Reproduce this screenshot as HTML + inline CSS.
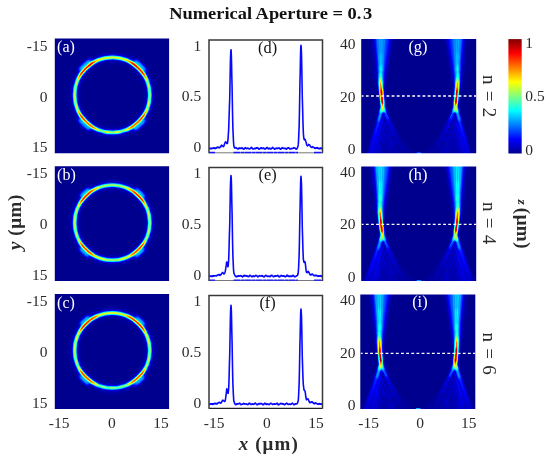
<!DOCTYPE html>
<html><head><meta charset="utf-8"><title>Numerical Aperture = 0.3</title>
<style>html,body{margin:0;padding:0;background:#fff;}svg{display:block;}text{font-family:"Liberation Serif", "DejaVu Serif", serif;}</style>
</head><body>
<svg width="550" height="464" viewBox="0 0 550 464">
<defs>
<filter id="jet" x="0" y="0" width="100%" height="100%" color-interpolation-filters="sRGB"><feComponentTransfer><feFuncR type="table" tableValues="0 0 0 0 0.5 1 1 1 0.5"/><feFuncG type="table" tableValues="0 0 0.5 1 1 1 0.5 0 0"/><feFuncB type="table" tableValues="0.56 1 1 1 0.5 0 0 0 0"/></feComponentTransfer></filter>
<filter id="b05" filterUnits="userSpaceOnUse" x="-20" y="-20" width="160" height="160" color-interpolation-filters="sRGB"><feGaussianBlur stdDeviation="0.5"/></filter>
<filter id="b07" filterUnits="userSpaceOnUse" x="-20" y="-20" width="160" height="160" color-interpolation-filters="sRGB"><feGaussianBlur stdDeviation="0.7"/></filter>
<filter id="b08" filterUnits="userSpaceOnUse" x="-20" y="-20" width="160" height="160" color-interpolation-filters="sRGB"><feGaussianBlur stdDeviation="0.8"/></filter>
<filter id="b09" filterUnits="userSpaceOnUse" x="-20" y="-20" width="160" height="160" color-interpolation-filters="sRGB"><feGaussianBlur stdDeviation="0.9"/></filter>
<filter id="b1" filterUnits="userSpaceOnUse" x="-20" y="-20" width="160" height="160" color-interpolation-filters="sRGB"><feGaussianBlur stdDeviation="1.0"/></filter>
<filter id="b15" filterUnits="userSpaceOnUse" x="-20" y="-20" width="160" height="160" color-interpolation-filters="sRGB"><feGaussianBlur stdDeviation="1.5"/></filter>
<filter id="b2" filterUnits="userSpaceOnUse" x="-20" y="-20" width="160" height="160" color-interpolation-filters="sRGB"><feGaussianBlur stdDeviation="2.0"/></filter>
<filter id="b3" filterUnits="userSpaceOnUse" x="-20" y="-20" width="160" height="160" color-interpolation-filters="sRGB"><feGaussianBlur stdDeviation="3.0"/></filter>
<filter id="b4" filterUnits="userSpaceOnUse" x="-20" y="-20" width="160" height="160" color-interpolation-filters="sRGB"><feGaussianBlur stdDeviation="4.0"/></filter>
<linearGradient id="cb" x1="0" y1="1" x2="0" y2="0">
<stop offset="0" stop-color="rgb(0,0,143)"/>
<stop offset="0.125" stop-color="rgb(0,0,255)"/>
<stop offset="0.375" stop-color="rgb(0,255,255)"/>
<stop offset="0.625" stop-color="rgb(255,255,0)"/>
<stop offset="0.875" stop-color="rgb(255,0,0)"/>
<stop offset="1" stop-color="rgb(128,0,0)"/>
</linearGradient>
</defs>
<defs><linearGradient id="g0" gradientUnits="userSpaceOnUse" x1="0" y1="67.1" x2="0" y2="114.4"><stop offset="0" stop-color="#050505"/><stop offset="1" stop-color="#030303"/></linearGradient><linearGradient id="g1" gradientUnits="userSpaceOnUse" x1="0" y1="67.1" x2="0" y2="114.4"><stop offset="0" stop-color="#090909"/><stop offset="1" stop-color="#040404"/></linearGradient><linearGradient id="g2" gradientUnits="userSpaceOnUse" x1="0" y1="67.1" x2="0" y2="114.4"><stop offset="0" stop-color="#121212"/><stop offset="1" stop-color="#090909"/></linearGradient><linearGradient id="g3" gradientUnits="userSpaceOnUse" x1="0" y1="67.1" x2="0" y2="114.4"><stop offset="0" stop-color="#333333"/><stop offset="1" stop-color="#0f0f0f"/></linearGradient><linearGradient id="g4" gradientUnits="userSpaceOnUse" x1="0" y1="67.1" x2="0" y2="114.4"><stop offset="0" stop-color="#333333"/><stop offset="1" stop-color="#080808"/></linearGradient><linearGradient id="g5" gradientUnits="userSpaceOnUse" x1="0" y1="67.1" x2="0" y2="114.4"><stop offset="0" stop-color="#141414"/><stop offset="1" stop-color="#0a0a0a"/></linearGradient><linearGradient id="g6" gradientUnits="userSpaceOnUse" x1="0" y1="67.1" x2="0" y2="114.4"><stop offset="0" stop-color="#121212"/><stop offset="1" stop-color="#090909"/></linearGradient><linearGradient id="g7" gradientUnits="userSpaceOnUse" x1="0" y1="67.1" x2="0" y2="114.4"><stop offset="0" stop-color="#0f0f0f"/><stop offset="1" stop-color="#080808"/></linearGradient><linearGradient id="g8" gradientUnits="userSpaceOnUse" x1="0" y1="67.1" x2="0" y2="114.4"><stop offset="0" stop-color="#0d0d0d"/><stop offset="1" stop-color="#060606"/></linearGradient><linearGradient id="g9" gradientUnits="userSpaceOnUse" x1="0" y1="67.1" x2="0" y2="114.4"><stop offset="0" stop-color="#0a0a0a"/><stop offset="1" stop-color="#060606"/></linearGradient><linearGradient id="g10" gradientUnits="userSpaceOnUse" x1="0" y1="67.1" x2="0" y2="114.4"><stop offset="0" stop-color="#080808"/><stop offset="1" stop-color="#050505"/></linearGradient><linearGradient id="g11" gradientUnits="userSpaceOnUse" x1="0" y1="67.1" x2="0" y2="114.4"><stop offset="0" stop-color="#050505"/><stop offset="1" stop-color="#030303"/></linearGradient><linearGradient id="g12" gradientUnits="userSpaceOnUse" x1="0" y1="67.1" x2="0" y2="114.4"><stop offset="0" stop-color="#090909"/><stop offset="1" stop-color="#040404"/></linearGradient><linearGradient id="g13" gradientUnits="userSpaceOnUse" x1="0" y1="67.1" x2="0" y2="114.4"><stop offset="0" stop-color="#121212"/><stop offset="1" stop-color="#090909"/></linearGradient><linearGradient id="g14" gradientUnits="userSpaceOnUse" x1="0" y1="67.1" x2="0" y2="114.4"><stop offset="0" stop-color="#333333"/><stop offset="1" stop-color="#0f0f0f"/></linearGradient><linearGradient id="g15" gradientUnits="userSpaceOnUse" x1="0" y1="67.1" x2="0" y2="114.4"><stop offset="0" stop-color="#333333"/><stop offset="1" stop-color="#080808"/></linearGradient><linearGradient id="g16" gradientUnits="userSpaceOnUse" x1="0" y1="67.1" x2="0" y2="114.4"><stop offset="0" stop-color="#141414"/><stop offset="1" stop-color="#0a0a0a"/></linearGradient><linearGradient id="g17" gradientUnits="userSpaceOnUse" x1="0" y1="67.1" x2="0" y2="114.4"><stop offset="0" stop-color="#121212"/><stop offset="1" stop-color="#090909"/></linearGradient><linearGradient id="g18" gradientUnits="userSpaceOnUse" x1="0" y1="67.1" x2="0" y2="114.4"><stop offset="0" stop-color="#0f0f0f"/><stop offset="1" stop-color="#080808"/></linearGradient><linearGradient id="g19" gradientUnits="userSpaceOnUse" x1="0" y1="67.1" x2="0" y2="114.4"><stop offset="0" stop-color="#0d0d0d"/><stop offset="1" stop-color="#060606"/></linearGradient><linearGradient id="g20" gradientUnits="userSpaceOnUse" x1="0" y1="67.1" x2="0" y2="114.4"><stop offset="0" stop-color="#0a0a0a"/><stop offset="1" stop-color="#060606"/></linearGradient><linearGradient id="g21" gradientUnits="userSpaceOnUse" x1="0" y1="67.1" x2="0" y2="114.4"><stop offset="0" stop-color="#080808"/><stop offset="1" stop-color="#050505"/></linearGradient><linearGradient id="g22" gradientUnits="userSpaceOnUse" x1="0" y1="67.8" x2="0" y2="114.4"><stop offset="0" stop-color="#050505"/><stop offset="1" stop-color="#030303"/></linearGradient><linearGradient id="g23" gradientUnits="userSpaceOnUse" x1="0" y1="67.8" x2="0" y2="114.4"><stop offset="0" stop-color="#090909"/><stop offset="1" stop-color="#040404"/></linearGradient><linearGradient id="g24" gradientUnits="userSpaceOnUse" x1="0" y1="67.8" x2="0" y2="114.4"><stop offset="0" stop-color="#121212"/><stop offset="1" stop-color="#090909"/></linearGradient><linearGradient id="g25" gradientUnits="userSpaceOnUse" x1="0" y1="67.8" x2="0" y2="114.4"><stop offset="0" stop-color="#333333"/><stop offset="1" stop-color="#0f0f0f"/></linearGradient><linearGradient id="g26" gradientUnits="userSpaceOnUse" x1="0" y1="67.8" x2="0" y2="114.4"><stop offset="0" stop-color="#333333"/><stop offset="1" stop-color="#080808"/></linearGradient><linearGradient id="g27" gradientUnits="userSpaceOnUse" x1="0" y1="67.8" x2="0" y2="114.4"><stop offset="0" stop-color="#141414"/><stop offset="1" stop-color="#0a0a0a"/></linearGradient><linearGradient id="g28" gradientUnits="userSpaceOnUse" x1="0" y1="67.8" x2="0" y2="114.4"><stop offset="0" stop-color="#121212"/><stop offset="1" stop-color="#090909"/></linearGradient><linearGradient id="g29" gradientUnits="userSpaceOnUse" x1="0" y1="67.8" x2="0" y2="114.4"><stop offset="0" stop-color="#0f0f0f"/><stop offset="1" stop-color="#080808"/></linearGradient><linearGradient id="g30" gradientUnits="userSpaceOnUse" x1="0" y1="67.8" x2="0" y2="114.4"><stop offset="0" stop-color="#0d0d0d"/><stop offset="1" stop-color="#060606"/></linearGradient><linearGradient id="g31" gradientUnits="userSpaceOnUse" x1="0" y1="67.8" x2="0" y2="114.4"><stop offset="0" stop-color="#0a0a0a"/><stop offset="1" stop-color="#060606"/></linearGradient><linearGradient id="g32" gradientUnits="userSpaceOnUse" x1="0" y1="67.8" x2="0" y2="114.4"><stop offset="0" stop-color="#080808"/><stop offset="1" stop-color="#050505"/></linearGradient><linearGradient id="g33" gradientUnits="userSpaceOnUse" x1="0" y1="67.8" x2="0" y2="114.4"><stop offset="0" stop-color="#050505"/><stop offset="1" stop-color="#030303"/></linearGradient><linearGradient id="g34" gradientUnits="userSpaceOnUse" x1="0" y1="67.8" x2="0" y2="114.4"><stop offset="0" stop-color="#090909"/><stop offset="1" stop-color="#040404"/></linearGradient><linearGradient id="g35" gradientUnits="userSpaceOnUse" x1="0" y1="67.8" x2="0" y2="114.4"><stop offset="0" stop-color="#121212"/><stop offset="1" stop-color="#090909"/></linearGradient><linearGradient id="g36" gradientUnits="userSpaceOnUse" x1="0" y1="67.8" x2="0" y2="114.4"><stop offset="0" stop-color="#333333"/><stop offset="1" stop-color="#0f0f0f"/></linearGradient><linearGradient id="g37" gradientUnits="userSpaceOnUse" x1="0" y1="67.8" x2="0" y2="114.4"><stop offset="0" stop-color="#333333"/><stop offset="1" stop-color="#080808"/></linearGradient><linearGradient id="g38" gradientUnits="userSpaceOnUse" x1="0" y1="67.8" x2="0" y2="114.4"><stop offset="0" stop-color="#141414"/><stop offset="1" stop-color="#0a0a0a"/></linearGradient><linearGradient id="g39" gradientUnits="userSpaceOnUse" x1="0" y1="67.8" x2="0" y2="114.4"><stop offset="0" stop-color="#121212"/><stop offset="1" stop-color="#090909"/></linearGradient><linearGradient id="g40" gradientUnits="userSpaceOnUse" x1="0" y1="67.8" x2="0" y2="114.4"><stop offset="0" stop-color="#0f0f0f"/><stop offset="1" stop-color="#080808"/></linearGradient><linearGradient id="g41" gradientUnits="userSpaceOnUse" x1="0" y1="67.8" x2="0" y2="114.4"><stop offset="0" stop-color="#0d0d0d"/><stop offset="1" stop-color="#060606"/></linearGradient><linearGradient id="g42" gradientUnits="userSpaceOnUse" x1="0" y1="67.8" x2="0" y2="114.4"><stop offset="0" stop-color="#0a0a0a"/><stop offset="1" stop-color="#060606"/></linearGradient><linearGradient id="g43" gradientUnits="userSpaceOnUse" x1="0" y1="67.8" x2="0" y2="114.4"><stop offset="0" stop-color="#080808"/><stop offset="1" stop-color="#050505"/></linearGradient><linearGradient id="g44" gradientUnits="userSpaceOnUse" x1="0" y1="69.0" x2="0" y2="114.5"><stop offset="0" stop-color="#050505"/><stop offset="1" stop-color="#030303"/></linearGradient><linearGradient id="g45" gradientUnits="userSpaceOnUse" x1="0" y1="69.0" x2="0" y2="114.5"><stop offset="0" stop-color="#090909"/><stop offset="1" stop-color="#040404"/></linearGradient><linearGradient id="g46" gradientUnits="userSpaceOnUse" x1="0" y1="69.0" x2="0" y2="114.5"><stop offset="0" stop-color="#121212"/><stop offset="1" stop-color="#090909"/></linearGradient><linearGradient id="g47" gradientUnits="userSpaceOnUse" x1="0" y1="69.0" x2="0" y2="114.5"><stop offset="0" stop-color="#333333"/><stop offset="1" stop-color="#0f0f0f"/></linearGradient><linearGradient id="g48" gradientUnits="userSpaceOnUse" x1="0" y1="69.0" x2="0" y2="114.5"><stop offset="0" stop-color="#333333"/><stop offset="1" stop-color="#080808"/></linearGradient><linearGradient id="g49" gradientUnits="userSpaceOnUse" x1="0" y1="69.0" x2="0" y2="114.5"><stop offset="0" stop-color="#141414"/><stop offset="1" stop-color="#0a0a0a"/></linearGradient><linearGradient id="g50" gradientUnits="userSpaceOnUse" x1="0" y1="69.0" x2="0" y2="114.5"><stop offset="0" stop-color="#121212"/><stop offset="1" stop-color="#090909"/></linearGradient><linearGradient id="g51" gradientUnits="userSpaceOnUse" x1="0" y1="69.0" x2="0" y2="114.5"><stop offset="0" stop-color="#0f0f0f"/><stop offset="1" stop-color="#080808"/></linearGradient><linearGradient id="g52" gradientUnits="userSpaceOnUse" x1="0" y1="69.0" x2="0" y2="114.5"><stop offset="0" stop-color="#0d0d0d"/><stop offset="1" stop-color="#060606"/></linearGradient><linearGradient id="g53" gradientUnits="userSpaceOnUse" x1="0" y1="69.0" x2="0" y2="114.5"><stop offset="0" stop-color="#0a0a0a"/><stop offset="1" stop-color="#060606"/></linearGradient><linearGradient id="g54" gradientUnits="userSpaceOnUse" x1="0" y1="69.0" x2="0" y2="114.5"><stop offset="0" stop-color="#080808"/><stop offset="1" stop-color="#050505"/></linearGradient><linearGradient id="g55" gradientUnits="userSpaceOnUse" x1="0" y1="69.0" x2="0" y2="114.5"><stop offset="0" stop-color="#050505"/><stop offset="1" stop-color="#030303"/></linearGradient><linearGradient id="g56" gradientUnits="userSpaceOnUse" x1="0" y1="69.0" x2="0" y2="114.5"><stop offset="0" stop-color="#090909"/><stop offset="1" stop-color="#040404"/></linearGradient><linearGradient id="g57" gradientUnits="userSpaceOnUse" x1="0" y1="69.0" x2="0" y2="114.5"><stop offset="0" stop-color="#121212"/><stop offset="1" stop-color="#090909"/></linearGradient><linearGradient id="g58" gradientUnits="userSpaceOnUse" x1="0" y1="69.0" x2="0" y2="114.5"><stop offset="0" stop-color="#333333"/><stop offset="1" stop-color="#0f0f0f"/></linearGradient><linearGradient id="g59" gradientUnits="userSpaceOnUse" x1="0" y1="69.0" x2="0" y2="114.5"><stop offset="0" stop-color="#333333"/><stop offset="1" stop-color="#080808"/></linearGradient><linearGradient id="g60" gradientUnits="userSpaceOnUse" x1="0" y1="69.0" x2="0" y2="114.5"><stop offset="0" stop-color="#141414"/><stop offset="1" stop-color="#0a0a0a"/></linearGradient><linearGradient id="g61" gradientUnits="userSpaceOnUse" x1="0" y1="69.0" x2="0" y2="114.5"><stop offset="0" stop-color="#121212"/><stop offset="1" stop-color="#090909"/></linearGradient><linearGradient id="g62" gradientUnits="userSpaceOnUse" x1="0" y1="69.0" x2="0" y2="114.5"><stop offset="0" stop-color="#0f0f0f"/><stop offset="1" stop-color="#080808"/></linearGradient><linearGradient id="g63" gradientUnits="userSpaceOnUse" x1="0" y1="69.0" x2="0" y2="114.5"><stop offset="0" stop-color="#0d0d0d"/><stop offset="1" stop-color="#060606"/></linearGradient><linearGradient id="g64" gradientUnits="userSpaceOnUse" x1="0" y1="69.0" x2="0" y2="114.5"><stop offset="0" stop-color="#0a0a0a"/><stop offset="1" stop-color="#060606"/></linearGradient><linearGradient id="g65" gradientUnits="userSpaceOnUse" x1="0" y1="69.0" x2="0" y2="114.5"><stop offset="0" stop-color="#080808"/><stop offset="1" stop-color="#050505"/></linearGradient></defs>
<rect width="550" height="464" fill="#fff"/>
<text x="169.2" y="18.6" font-size="17" font-weight="bold" fill="#111" textLength="203" lengthAdjust="spacingAndGlyphs">Numerical Aperture = 0.<tspan dx="1.5">3</tspan></text>
<svg x="54.80" y="38.50" width="114.30" height="114.80" viewBox="0 0 114.30 114.80">
<g filter="url(#jet)">
<rect x="-2" y="-2" width="118.30" height="118.80" fill="#000"/>
<circle cx="57.45" cy="56.45" r="37.90" fill="none" stroke="#141414" stroke-width="7" filter="url(#b2)" style="mix-blend-mode:plus-lighter"/>
<circle cx="57.45" cy="56.45" r="37.60" fill="none" stroke="#fff" stroke-width="1.6" filter="url(#b08)" style="mix-blend-mode:plus-lighter"/>
<path d="M71.14 20.79 L73.23 22.10 L75.24 23.46 L77.18 24.88 L79.05 26.35 L80.86 27.88 L82.62 29.46 L84.32 31.10 L85.97 32.80 L87.57 34.57 L89.12 36.41 L90.62 38.32 L92.07 40.31" fill="none" stroke="#484848" stroke-width="1.4" stroke-linecap="round" filter="url(#b09)" style="mix-blend-mode:plus-lighter"/>
<path d="M75.38 22.72 L76.70 23.77 L77.98 24.83 L79.24 25.90 L80.48 26.98 L81.69 28.07 L82.89 29.17 L84.07 30.29 L85.24 31.42 L86.41 32.58 L87.56 33.76 L88.70 34.97 L89.85 36.21" fill="none" stroke="#484848" stroke-width="1.4" stroke-linecap="round" filter="url(#b09)" style="mix-blend-mode:plus-lighter"/>
<path d="M80.49 22.29 L81.42 22.94 L82.34 23.62 L83.24 24.32 L84.12 25.04 L84.97 25.79 L85.81 26.56 L86.63 27.36 L87.42 28.18 L88.19 29.02 L88.93 29.88 L89.66 30.76 L90.35 31.66" fill="none" stroke="#888" stroke-width="1.8" stroke-linecap="round" filter="url(#b15)" style="mix-blend-mode:plus-lighter"/>
<path d="M92.07 72.59 L90.62 74.58 L89.12 76.49 L87.57 78.33 L85.97 80.10 L84.32 81.80 L82.62 83.44 L80.86 85.02 L79.05 86.55 L77.18 88.02 L75.24 89.44 L73.23 90.80 L71.14 92.11" fill="none" stroke="#484848" stroke-width="1.4" stroke-linecap="round" filter="url(#b09)" style="mix-blend-mode:plus-lighter"/>
<path d="M89.85 76.69 L88.70 77.93 L87.56 79.14 L86.41 80.32 L85.24 81.48 L84.07 82.61 L82.89 83.73 L81.69 84.83 L80.48 85.92 L79.24 87.00 L77.98 88.07 L76.70 89.13 L75.38 90.18" fill="none" stroke="#484848" stroke-width="1.4" stroke-linecap="round" filter="url(#b09)" style="mix-blend-mode:plus-lighter"/>
<path d="M89.92 81.82 L89.20 82.70 L88.47 83.57 L87.70 84.42 L86.92 85.24 L86.11 86.05 L85.28 86.83 L84.43 87.58 L83.56 88.32 L82.67 89.03 L81.76 89.71 L80.84 90.37 L79.89 91.00" fill="none" stroke="#888" stroke-width="1.8" stroke-linecap="round" filter="url(#b15)" style="mix-blend-mode:plus-lighter"/>
<path d="M43.76 92.11 L41.67 90.80 L39.66 89.44 L37.72 88.02 L35.85 86.55 L34.04 85.02 L32.28 83.44 L30.58 81.80 L28.93 80.10 L27.33 78.33 L25.78 76.49 L24.28 74.58 L22.83 72.59" fill="none" stroke="#484848" stroke-width="1.4" stroke-linecap="round" filter="url(#b09)" style="mix-blend-mode:plus-lighter"/>
<path d="M39.52 90.18 L38.20 89.13 L36.92 88.07 L35.66 87.00 L34.42 85.92 L33.21 84.83 L32.01 83.73 L30.83 82.61 L29.66 81.48 L28.49 80.32 L27.34 79.14 L26.20 77.93 L25.05 76.69" fill="none" stroke="#484848" stroke-width="1.4" stroke-linecap="round" filter="url(#b09)" style="mix-blend-mode:plus-lighter"/>
<path d="M34.41 90.61 L33.48 89.96 L32.56 89.28 L31.66 88.58 L30.78 87.86 L29.93 87.11 L29.09 86.34 L28.27 85.54 L27.48 84.72 L26.71 83.88 L25.97 83.02 L25.24 82.14 L24.55 81.24" fill="none" stroke="#888" stroke-width="1.8" stroke-linecap="round" filter="url(#b15)" style="mix-blend-mode:plus-lighter"/>
<path d="M22.83 40.31 L24.28 38.32 L25.78 36.41 L27.33 34.57 L28.93 32.80 L30.58 31.10 L32.28 29.46 L34.04 27.88 L35.85 26.35 L37.72 24.88 L39.66 23.46 L41.67 22.10 L43.76 20.79" fill="none" stroke="#484848" stroke-width="1.4" stroke-linecap="round" filter="url(#b09)" style="mix-blend-mode:plus-lighter"/>
<path d="M25.05 36.21 L26.20 34.97 L27.34 33.76 L28.49 32.58 L29.66 31.42 L30.83 30.29 L32.01 29.17 L33.21 28.07 L34.42 26.98 L35.66 25.90 L36.92 24.83 L38.20 23.77 L39.52 22.72" fill="none" stroke="#484848" stroke-width="1.4" stroke-linecap="round" filter="url(#b09)" style="mix-blend-mode:plus-lighter"/>
<path d="M24.98 31.08 L25.70 30.20 L26.43 29.33 L27.20 28.48 L27.98 27.66 L28.79 26.85 L29.62 26.07 L30.47 25.32 L31.34 24.58 L32.23 23.87 L33.14 23.19 L34.06 22.53 L35.01 21.90" fill="none" stroke="#888" stroke-width="1.8" stroke-linecap="round" filter="url(#b15)" style="mix-blend-mode:plus-lighter"/>
</g>
</svg>
<text x="57.10" y="52.40" font-size="16" text-anchor="start" fill="#fff" font-weight="normal" font-style="normal" >(a)</text>
<svg x="54.80" y="166.20" width="114.30" height="114.80" viewBox="0 0 114.30 114.80">
<g filter="url(#jet)">
<rect x="-2" y="-2" width="118.30" height="118.80" fill="#000"/>
<circle cx="57.45" cy="56.45" r="37.90" fill="none" stroke="#141414" stroke-width="7" filter="url(#b2)" style="mix-blend-mode:plus-lighter"/>
<circle cx="57.45" cy="56.45" r="37.60" fill="none" stroke="#fff" stroke-width="1.6" filter="url(#b08)" style="mix-blend-mode:plus-lighter"/>
<path d="M73.59 21.83 L75.20 23.07 L76.75 24.33 L78.27 25.59 L79.74 26.86 L81.19 28.16 L82.62 29.46 L84.02 30.79 L85.41 32.15 L86.78 33.53 L88.15 34.95 L89.51 36.42 L90.86 37.93" fill="none" stroke="#484848" stroke-width="1.4" stroke-linecap="round" filter="url(#b09)" style="mix-blend-mode:plus-lighter"/>
<path d="M77.12 23.71 L78.11 24.64 L79.07 25.57 L80.03 26.48 L80.99 27.38 L81.94 28.28 L82.89 29.17 L83.84 30.06 L84.80 30.94 L85.77 31.83 L86.75 32.72 L87.74 33.63 L88.74 34.54" fill="none" stroke="#484848" stroke-width="1.4" stroke-linecap="round" filter="url(#b09)" style="mix-blend-mode:plus-lighter"/>
<path d="M81.67 23.12 L82.39 23.65 L83.10 24.21 L83.79 24.77 L84.48 25.36 L85.15 25.95 L85.81 26.56 L86.46 27.19 L87.09 27.83 L87.70 28.48 L88.31 29.15 L88.90 29.83 L89.47 30.52" fill="none" stroke="#888" stroke-width="1.8" stroke-linecap="round" filter="url(#b15)" style="mix-blend-mode:plus-lighter"/>
<path d="M90.86 74.97 L89.51 76.48 L88.15 77.95 L86.78 79.37 L85.41 80.75 L84.02 82.11 L82.62 83.44 L81.19 84.74 L79.74 86.04 L78.27 87.31 L76.75 88.57 L75.20 89.83 L73.59 91.07" fill="none" stroke="#484848" stroke-width="1.4" stroke-linecap="round" filter="url(#b09)" style="mix-blend-mode:plus-lighter"/>
<path d="M88.74 78.36 L87.74 79.27 L86.75 80.18 L85.77 81.07 L84.80 81.96 L83.84 82.84 L82.89 83.73 L81.94 84.62 L80.99 85.52 L80.03 86.42 L79.07 87.33 L78.11 88.26 L77.12 89.19" fill="none" stroke="#484848" stroke-width="1.4" stroke-linecap="round" filter="url(#b09)" style="mix-blend-mode:plus-lighter"/>
<path d="M89.01 82.93 L88.43 83.62 L87.83 84.28 L87.21 84.94 L86.58 85.58 L85.94 86.21 L85.28 86.83 L84.62 87.43 L83.93 88.01 L83.24 88.58 L82.53 89.14 L81.81 89.68 L81.08 90.20" fill="none" stroke="#888" stroke-width="1.8" stroke-linecap="round" filter="url(#b15)" style="mix-blend-mode:plus-lighter"/>
<path d="M41.31 91.07 L39.70 89.83 L38.15 88.57 L36.63 87.31 L35.16 86.04 L33.71 84.74 L32.28 83.44 L30.88 82.11 L29.49 80.75 L28.12 79.37 L26.75 77.95 L25.39 76.48 L24.04 74.97" fill="none" stroke="#484848" stroke-width="1.4" stroke-linecap="round" filter="url(#b09)" style="mix-blend-mode:plus-lighter"/>
<path d="M37.78 89.19 L36.79 88.26 L35.83 87.33 L34.87 86.42 L33.91 85.52 L32.96 84.62 L32.01 83.73 L31.06 82.84 L30.10 81.96 L29.13 81.07 L28.15 80.18 L27.16 79.27 L26.16 78.36" fill="none" stroke="#484848" stroke-width="1.4" stroke-linecap="round" filter="url(#b09)" style="mix-blend-mode:plus-lighter"/>
<path d="M33.23 89.78 L32.51 89.25 L31.80 88.69 L31.11 88.13 L30.42 87.54 L29.75 86.95 L29.09 86.34 L28.44 85.71 L27.81 85.07 L27.20 84.42 L26.59 83.75 L26.00 83.07 L25.43 82.38" fill="none" stroke="#888" stroke-width="1.8" stroke-linecap="round" filter="url(#b15)" style="mix-blend-mode:plus-lighter"/>
<path d="M24.04 37.93 L25.39 36.42 L26.75 34.95 L28.12 33.53 L29.49 32.15 L30.88 30.79 L32.28 29.46 L33.71 28.16 L35.16 26.86 L36.63 25.59 L38.15 24.33 L39.70 23.07 L41.31 21.83" fill="none" stroke="#484848" stroke-width="1.4" stroke-linecap="round" filter="url(#b09)" style="mix-blend-mode:plus-lighter"/>
<path d="M26.16 34.54 L27.16 33.63 L28.15 32.72 L29.13 31.83 L30.10 30.94 L31.06 30.06 L32.01 29.17 L32.96 28.28 L33.91 27.38 L34.87 26.48 L35.83 25.57 L36.79 24.64 L37.78 23.71" fill="none" stroke="#484848" stroke-width="1.4" stroke-linecap="round" filter="url(#b09)" style="mix-blend-mode:plus-lighter"/>
<path d="M25.89 29.97 L26.47 29.28 L27.07 28.62 L27.69 27.96 L28.32 27.32 L28.96 26.69 L29.62 26.07 L30.28 25.47 L30.97 24.89 L31.66 24.32 L32.37 23.76 L33.09 23.22 L33.82 22.70" fill="none" stroke="#888" stroke-width="1.8" stroke-linecap="round" filter="url(#b15)" style="mix-blend-mode:plus-lighter"/>
</g>
</svg>
<text x="57.10" y="180.10" font-size="16" text-anchor="start" fill="#fff" font-weight="normal" font-style="normal" >(b)</text>
<svg x="54.80" y="294.00" width="114.30" height="114.90" viewBox="0 0 114.30 114.90">
<g filter="url(#jet)">
<rect x="-2" y="-2" width="118.30" height="118.90" fill="#000"/>
<circle cx="57.45" cy="56.45" r="37.90" fill="none" stroke="#141414" stroke-width="7" filter="url(#b2)" style="mix-blend-mode:plus-lighter"/>
<circle cx="57.45" cy="56.45" r="37.60" fill="none" stroke="#fff" stroke-width="1.6" filter="url(#b08)" style="mix-blend-mode:plus-lighter"/>
<path d="M73.59 21.83 L75.20 23.07 L76.75 24.33 L78.27 25.59 L79.74 26.86 L81.19 28.16 L82.62 29.46 L84.02 30.79 L85.41 32.15 L86.78 33.53 L88.15 34.95 L89.51 36.42 L90.86 37.93" fill="none" stroke="#484848" stroke-width="1.4" stroke-linecap="round" filter="url(#b09)" style="mix-blend-mode:plus-lighter"/>
<path d="M77.12 23.71 L78.11 24.64 L79.07 25.57 L80.03 26.48 L80.99 27.38 L81.94 28.28 L82.89 29.17 L83.84 30.06 L84.80 30.94 L85.77 31.83 L86.75 32.72 L87.74 33.63 L88.74 34.54" fill="none" stroke="#484848" stroke-width="1.4" stroke-linecap="round" filter="url(#b09)" style="mix-blend-mode:plus-lighter"/>
<path d="M81.67 23.12 L82.39 23.65 L83.10 24.21 L83.79 24.77 L84.48 25.36 L85.15 25.95 L85.81 26.56 L86.46 27.19 L87.09 27.83 L87.70 28.48 L88.31 29.15 L88.90 29.83 L89.47 30.52" fill="none" stroke="#888" stroke-width="1.8" stroke-linecap="round" filter="url(#b15)" style="mix-blend-mode:plus-lighter"/>
<path d="M90.86 74.97 L89.51 76.48 L88.15 77.95 L86.78 79.37 L85.41 80.75 L84.02 82.11 L82.62 83.44 L81.19 84.74 L79.74 86.04 L78.27 87.31 L76.75 88.57 L75.20 89.83 L73.59 91.07" fill="none" stroke="#484848" stroke-width="1.4" stroke-linecap="round" filter="url(#b09)" style="mix-blend-mode:plus-lighter"/>
<path d="M88.74 78.36 L87.74 79.27 L86.75 80.18 L85.77 81.07 L84.80 81.96 L83.84 82.84 L82.89 83.73 L81.94 84.62 L80.99 85.52 L80.03 86.42 L79.07 87.33 L78.11 88.26 L77.12 89.19" fill="none" stroke="#484848" stroke-width="1.4" stroke-linecap="round" filter="url(#b09)" style="mix-blend-mode:plus-lighter"/>
<path d="M89.01 82.93 L88.43 83.62 L87.83 84.28 L87.21 84.94 L86.58 85.58 L85.94 86.21 L85.28 86.83 L84.62 87.43 L83.93 88.01 L83.24 88.58 L82.53 89.14 L81.81 89.68 L81.08 90.20" fill="none" stroke="#888" stroke-width="1.8" stroke-linecap="round" filter="url(#b15)" style="mix-blend-mode:plus-lighter"/>
<path d="M41.31 91.07 L39.70 89.83 L38.15 88.57 L36.63 87.31 L35.16 86.04 L33.71 84.74 L32.28 83.44 L30.88 82.11 L29.49 80.75 L28.12 79.37 L26.75 77.95 L25.39 76.48 L24.04 74.97" fill="none" stroke="#484848" stroke-width="1.4" stroke-linecap="round" filter="url(#b09)" style="mix-blend-mode:plus-lighter"/>
<path d="M37.78 89.19 L36.79 88.26 L35.83 87.33 L34.87 86.42 L33.91 85.52 L32.96 84.62 L32.01 83.73 L31.06 82.84 L30.10 81.96 L29.13 81.07 L28.15 80.18 L27.16 79.27 L26.16 78.36" fill="none" stroke="#484848" stroke-width="1.4" stroke-linecap="round" filter="url(#b09)" style="mix-blend-mode:plus-lighter"/>
<path d="M33.23 89.78 L32.51 89.25 L31.80 88.69 L31.11 88.13 L30.42 87.54 L29.75 86.95 L29.09 86.34 L28.44 85.71 L27.81 85.07 L27.20 84.42 L26.59 83.75 L26.00 83.07 L25.43 82.38" fill="none" stroke="#888" stroke-width="1.8" stroke-linecap="round" filter="url(#b15)" style="mix-blend-mode:plus-lighter"/>
<path d="M24.04 37.93 L25.39 36.42 L26.75 34.95 L28.12 33.53 L29.49 32.15 L30.88 30.79 L32.28 29.46 L33.71 28.16 L35.16 26.86 L36.63 25.59 L38.15 24.33 L39.70 23.07 L41.31 21.83" fill="none" stroke="#484848" stroke-width="1.4" stroke-linecap="round" filter="url(#b09)" style="mix-blend-mode:plus-lighter"/>
<path d="M26.16 34.54 L27.16 33.63 L28.15 32.72 L29.13 31.83 L30.10 30.94 L31.06 30.06 L32.01 29.17 L32.96 28.28 L33.91 27.38 L34.87 26.48 L35.83 25.57 L36.79 24.64 L37.78 23.71" fill="none" stroke="#484848" stroke-width="1.4" stroke-linecap="round" filter="url(#b09)" style="mix-blend-mode:plus-lighter"/>
<path d="M25.89 29.97 L26.47 29.28 L27.07 28.62 L27.69 27.96 L28.32 27.32 L28.96 26.69 L29.62 26.07 L30.28 25.47 L30.97 24.89 L31.66 24.32 L32.37 23.76 L33.09 23.22 L33.82 22.70" fill="none" stroke="#888" stroke-width="1.8" stroke-linecap="round" filter="url(#b15)" style="mix-blend-mode:plus-lighter"/>
</g>
</svg>
<text x="57.10" y="307.90" font-size="16" text-anchor="start" fill="#fff" font-weight="normal" font-style="normal" >(c)</text>
<text x="47.50" y="50.70" font-size="15.5" text-anchor="end" fill="#2b2b2b" font-weight="normal" font-style="normal" >-15</text>
<text x="47.50" y="101.60" font-size="15.5" text-anchor="end" fill="#2b2b2b" font-weight="normal" font-style="normal" >0</text>
<text x="47.50" y="152.40" font-size="15.5" text-anchor="end" fill="#2b2b2b" font-weight="normal" font-style="normal" >15</text>
<text x="47.50" y="178.40" font-size="15.5" text-anchor="end" fill="#2b2b2b" font-weight="normal" font-style="normal" >-15</text>
<text x="47.50" y="229.30" font-size="15.5" text-anchor="end" fill="#2b2b2b" font-weight="normal" font-style="normal" >0</text>
<text x="47.50" y="280.10" font-size="15.5" text-anchor="end" fill="#2b2b2b" font-weight="normal" font-style="normal" >15</text>
<text x="47.50" y="306.20" font-size="15.5" text-anchor="end" fill="#2b2b2b" font-weight="normal" font-style="normal" >-15</text>
<text x="47.50" y="357.10" font-size="15.5" text-anchor="end" fill="#2b2b2b" font-weight="normal" font-style="normal" >0</text>
<text x="47.50" y="407.90" font-size="15.5" text-anchor="end" fill="#2b2b2b" font-weight="normal" font-style="normal" >15</text>
<text x="69.40" y="427.50" font-size="15.5" text-anchor="end" fill="#2b2b2b" font-weight="normal" font-style="normal" >-15</text>
<text x="111.90" y="427.50" font-size="15.5" text-anchor="middle" fill="#2b2b2b" font-weight="normal" font-style="normal" >0</text>
<text x="160.90" y="427.50" font-size="15.5" text-anchor="middle" fill="#2b2b2b" font-weight="normal" font-style="normal" >15</text>
<svg x="209.00" y="39.90" width="113.50" height="113.90" viewBox="209.00 39.90 113.50 113.90">
<path d="M209.1 148.5 L209.3 148.5 L209.5 148.4 L209.7 148.6 L210.0 148.3 L210.2 148.3 L210.4 148.4 L210.6 148.7 L210.8 148.5 L211.1 148.7 L211.3 148.7 L211.5 148.3 L211.7 148.2 L211.9 148.8 L212.1 148.2 L212.4 148.3 L212.6 148.4 L212.8 148.4 L213.0 148.1 L213.2 148.2 L213.5 148.0 L213.7 148.0 L213.9 148.3 L214.1 147.9 L214.3 147.8 L214.6 147.9 L214.8 148.1 L215.0 148.5 L215.2 148.6 L215.4 148.5 L215.7 148.0 L215.9 148.3 L216.1 148.2 L216.3 147.7 L216.5 147.9 L216.7 147.6 L217.0 147.6 L217.2 147.7 L217.4 147.3 L217.6 147.0 L217.8 147.5 L218.1 147.5 L218.3 147.4 L218.5 147.7 L218.7 147.5 L218.9 147.4 L219.2 147.6 L219.4 147.7 L219.6 147.4 L219.8 147.7 L220.0 147.2 L220.2 147.1 L220.5 146.7 L220.7 146.7 L220.9 145.9 L221.1 146.1 L221.3 145.9 L221.6 145.3 L221.8 145.2 L222.0 145.6 L222.2 145.8 L222.4 146.0 L222.7 146.2 L222.9 146.2 L223.1 146.6 L223.3 146.7 L223.5 146.3 L223.8 146.3 L224.0 145.6 L224.2 144.9 L224.4 144.3 L224.6 143.8 L224.8 143.3 L225.1 142.6 L225.3 142.5 L225.5 141.7 L225.7 141.9 L225.9 142.0 L226.2 142.4 L226.4 142.6 L226.6 142.9 L226.8 143.4 L227.0 143.3 L227.3 143.4 L227.5 143.2 L227.7 142.0 L227.9 140.2 L228.1 138.0 L228.3 134.7 L228.6 130.8 L228.8 125.5 L229.0 119.8 L229.2 113.8 L229.4 107.1 L229.7 99.2 L229.9 89.5 L230.1 77.9 L230.3 67.1 L230.5 58.0 L230.8 51.7 L231.0 49.7 L231.2 51.6 L231.4 56.9 L231.6 65.1 L231.8 76.1 L232.1 87.9 L232.3 99.8 L232.5 110.7 L232.7 120.2 L232.9 128.6 L233.2 135.0 L233.4 139.7 L233.6 143.0 L233.8 145.3 L234.0 146.5 L234.3 147.3 L234.5 147.8 L234.7 148.1 L234.9 148.0 L235.1 147.7 L235.4 148.0 L235.6 147.9 L235.8 147.6 L236.0 147.6 L236.2 147.8 L236.4 148.0 L236.7 148.1 L236.9 148.5 L237.1 148.6 L237.3 148.6 L237.5 149.0 L237.8 148.8 L238.0 148.8 L238.2 148.6 L238.4 149.0 L238.6 148.3 L238.9 148.2 L239.1 148.0 L239.3 147.9 L239.5 148.4 L239.7 148.1 L239.9 148.5 L240.2 148.3 L240.4 148.1 L240.6 148.5 L240.8 148.3 L241.0 148.4 L241.3 148.3 L241.5 148.2 L241.7 148.2 L241.9 147.7 L242.1 147.8 L242.4 148.2 L242.6 148.3 L242.8 148.5 L243.0 148.8 L243.2 149.0 L243.5 149.0 L243.7 149.1 L243.9 149.2 L244.1 148.9 L244.3 148.6 L244.5 148.3 L244.8 148.4 L245.0 147.9 L245.2 147.7 L245.4 147.6 L245.6 147.8 L245.9 148.2 L246.1 148.1 L246.3 148.4 L246.5 148.6 L246.7 148.5 L247.0 148.5 L247.2 148.3 L247.4 148.3 L247.6 148.5 L247.8 148.2 L248.0 148.4 L248.3 148.4 L248.5 148.6 L248.7 148.6 L248.9 148.8 L249.1 148.7 L249.4 148.9 L249.6 148.9 L249.8 148.9 L250.0 148.7 L250.2 148.4 L250.5 148.2 L250.7 147.9 L250.9 147.9 L251.1 147.5 L251.3 147.4 L251.6 147.4 L251.8 147.7 L252.0 148.3 L252.2 148.0 L252.4 148.2 L252.6 148.9 L252.9 148.9 L253.1 148.9 L253.3 148.7 L253.5 148.7 L253.7 148.9 L254.0 148.8 L254.2 148.7 L254.4 148.7 L254.6 148.2 L254.8 148.2 L255.1 148.6 L255.3 148.3 L255.5 148.2 L255.7 148.7 L255.9 148.4 L256.1 148.4 L256.4 147.9 L256.6 147.8 L256.8 148.2 L257.0 148.0 L257.2 147.6 L257.5 147.8 L257.7 147.9 L257.9 147.9 L258.1 148.2 L258.3 148.3 L258.6 148.9 L258.8 149.2 L259.0 148.9 L259.2 149.2 L259.4 149.0 L259.7 148.7 L259.9 148.8 L260.1 148.4 L260.3 148.5 L260.5 148.4 L260.7 148.0 L261.0 147.8 L261.2 147.7 L261.4 148.4 L261.6 147.9 L261.8 148.2 L262.1 148.4 L262.3 148.4 L262.5 148.2 L262.7 148.3 L262.9 148.4 L263.2 147.9 L263.4 148.0 L263.6 148.1 L263.8 148.2 L264.0 148.1 L264.2 148.8 L264.5 148.6 L264.7 148.7 L264.9 149.1 L265.1 149.0 L265.3 149.0 L265.6 149.0 L265.8 148.7 L266.0 148.6 L266.2 147.9 L266.4 148.1 L266.7 147.7 L266.9 147.7 L267.1 147.4 L267.3 147.6 L267.5 148.1 L267.8 148.2 L268.0 148.6 L268.2 148.7 L268.4 148.7 L268.6 148.3 L268.8 148.9 L269.1 148.8 L269.3 148.5 L269.5 148.6 L269.7 148.7 L269.9 148.2 L270.2 148.8 L270.4 148.5 L270.6 148.7 L270.8 148.8 L271.0 148.9 L271.3 148.9 L271.5 148.7 L271.7 148.3 L271.9 148.3 L272.1 147.9 L272.3 147.6 L272.6 148.0 L272.8 147.4 L273.0 147.7 L273.2 147.9 L273.4 148.0 L273.7 148.0 L273.9 148.5 L274.1 148.9 L274.3 148.6 L274.5 149.2 L274.8 149.2 L275.0 148.8 L275.2 149.0 L275.4 148.8 L275.6 148.5 L275.9 148.2 L276.1 148.4 L276.3 148.0 L276.5 148.2 L276.7 148.2 L276.9 148.3 L277.2 148.6 L277.4 148.6 L277.6 148.2 L277.8 148.1 L278.0 148.4 L278.3 148.0 L278.5 148.0 L278.7 147.9 L278.9 148.0 L279.1 148.2 L279.4 148.3 L279.6 148.1 L279.8 148.8 L280.0 148.6 L280.2 148.9 L280.4 149.2 L280.7 148.9 L280.9 149.2 L281.1 148.7 L281.3 148.8 L281.5 148.2 L281.8 148.1 L282.0 148.2 L282.2 147.9 L282.4 147.6 L282.6 148.1 L282.9 148.1 L283.1 148.2 L283.3 148.0 L283.5 148.4 L283.7 148.5 L284.0 148.3 L284.2 148.4 L284.4 148.4 L284.6 148.3 L284.8 148.6 L285.0 148.6 L285.3 148.7 L285.5 148.7 L285.7 148.4 L285.9 148.4 L286.1 149.1 L286.4 149.0 L286.6 149.2 L286.8 148.9 L287.0 148.7 L287.2 148.5 L287.5 148.1 L287.7 148.1 L287.9 148.2 L288.1 147.8 L288.3 147.7 L288.5 147.8 L288.8 148.1 L289.0 147.9 L289.2 148.1 L289.4 148.2 L289.6 148.6 L289.9 149.0 L290.1 148.9 L290.3 149.0 L290.5 148.8 L290.7 148.9 L291.0 148.9 L291.2 148.5 L291.4 148.7 L291.6 148.7 L291.8 148.7 L292.1 148.4 L292.3 148.3 L292.5 148.4 L292.7 148.5 L292.9 148.4 L293.1 148.2 L293.4 148.3 L293.6 148.1 L293.8 147.8 L294.0 147.7 L294.2 147.7 L294.5 147.7 L294.7 147.8 L294.9 148.2 L295.1 148.4 L295.3 148.4 L295.6 148.8 L295.8 148.7 L296.0 149.1 L296.2 149.0 L296.4 149.2 L296.6 149.0 L296.9 148.5 L297.1 148.6 L297.3 148.0 L297.5 147.9 L297.7 146.8 L298.0 146.0 L298.2 144.9 L298.4 142.6 L298.6 139.1 L298.8 134.4 L299.1 127.6 L299.3 119.5 L299.5 109.0 L299.7 97.4 L299.9 84.9 L300.2 72.7 L300.4 61.6 L300.6 52.6 L300.8 46.9 L301.0 45.3 L301.2 47.5 L301.5 54.0 L301.7 63.6 L301.9 74.7 L302.1 87.0 L302.3 97.4 L302.6 107.5 L302.8 115.8 L303.0 123.2 L303.2 129.0 L303.4 133.9 L303.7 137.0 L303.9 138.5 L304.1 139.4 L304.3 139.6 L304.5 139.7 L304.7 140.0 L305.0 139.4 L305.2 139.6 L305.4 140.2 L305.6 140.7 L305.8 141.3 L306.1 142.0 L306.3 143.0 L306.5 144.2 L306.7 144.9 L306.9 145.3 L307.2 145.6 L307.4 145.9 L307.6 145.6 L307.8 145.5 L308.0 145.5 L308.2 145.0 L308.5 145.1 L308.7 144.4 L308.9 144.8 L309.1 144.8 L309.3 144.8 L309.6 144.8 L309.8 145.2 L310.0 145.6 L310.2 145.9 L310.4 146.5 L310.7 146.5 L310.9 146.8 L311.1 147.2 L311.3 147.2 L311.5 147.2 L311.8 147.3 L312.0 147.5 L312.2 147.0 L312.4 147.0 L312.6 146.7 L312.8 147.0 L313.1 147.1 L313.3 147.1 L313.5 147.2 L313.7 147.2 L313.9 147.5 L314.2 147.6 L314.4 147.6 L314.6 148.1 L314.8 148.0 L315.0 148.2 L315.3 148.4 L315.5 148.0 L315.7 148.1 L315.9 147.9 L316.1 147.8 L316.3 148.2 L316.6 147.8 L316.8 147.9 L317.0 147.6 L317.2 148.1 L317.4 147.7 L317.7 148.0 L317.9 148.3 L318.1 148.2 L318.3 148.0 L318.5 148.6 L318.8 148.5 L319.0 148.7 L319.2 148.8 L319.4 148.3 L319.6 148.4 L319.9 148.4 L320.1 148.2 L320.3 148.7 L320.5 148.1 L320.7 148.2 L320.9 148.1 L321.2 148.2 L321.4 148.5 L321.6 148.7 L321.8 148.1 L322.0 148.4 L322.3 148.4 L322.5 148.5 L322.7 148.7 L322.9 148.5" fill="none" stroke="#0808ff" stroke-width="1.6" stroke-linejoin="round"/>
</svg>
<path d="M209.00 152.80 H322.50" stroke="#555" stroke-width="0.8" fill="none"/>
<path d="M209.50 152.50 H215.00 M233.50 152.50 H298.00 M314.00 152.50 H322.00" stroke="#1414ff" stroke-width="1.3" fill="none" stroke-dasharray="7 0.6 3 0.4"/>
<path d="M209.00 153.20 V39.90 H322.50 V153.20" stroke="#383838" stroke-width="1.5" fill="none"/>
<text x="267.60" y="52.50" font-size="16.3" text-anchor="middle" fill="#111" font-weight="normal" font-style="normal" >(d)</text>
<text x="201.20" y="50.50" font-size="15.5" text-anchor="end" fill="#2b2b2b" font-weight="normal" font-style="normal" >1</text>
<text x="201.20" y="101.40" font-size="15.5" text-anchor="end" fill="#2b2b2b" font-weight="normal" font-style="normal" >0.5</text>
<text x="201.20" y="152.10" font-size="15.5" text-anchor="end" fill="#2b2b2b" font-weight="normal" font-style="normal" >0</text>
<svg x="209.00" y="167.60" width="113.50" height="113.90" viewBox="209.00 167.60 113.50 113.90">
<path d="M209.1 276.3 L209.3 276.2 L209.5 276.0 L209.7 276.2 L210.0 276.1 L210.2 276.1 L210.4 276.3 L210.6 276.1 L210.8 276.0 L211.1 275.9 L211.3 276.4 L211.5 276.3 L211.7 276.4 L211.9 276.0 L212.1 276.1 L212.4 276.5 L212.6 275.9 L212.8 275.8 L213.0 276.0 L213.2 275.9 L213.5 276.1 L213.7 276.1 L213.9 275.7 L214.1 276.0 L214.3 275.9 L214.6 275.8 L214.8 275.9 L215.0 275.7 L215.2 275.8 L215.4 275.6 L215.7 275.8 L215.9 275.8 L216.1 275.9 L216.3 275.8 L216.5 275.9 L216.7 275.9 L217.0 275.3 L217.2 275.2 L217.4 275.1 L217.6 275.0 L217.8 275.1 L218.1 275.0 L218.3 274.9 L218.5 275.0 L218.7 274.5 L218.9 274.8 L219.2 274.6 L219.4 275.0 L219.6 274.8 L219.8 274.9 L220.0 275.5 L220.2 275.4 L220.5 274.8 L220.7 274.9 L220.9 274.4 L221.1 274.4 L221.3 274.3 L221.6 273.5 L221.8 273.1 L222.0 273.1 L222.2 273.0 L222.4 272.8 L222.7 272.4 L222.9 272.6 L223.1 273.2 L223.3 273.3 L223.5 273.6 L223.8 273.9 L224.0 273.5 L224.2 273.9 L224.4 273.5 L224.6 273.2 L224.8 272.8 L225.1 271.8 L225.3 271.2 L225.5 269.8 L225.7 268.7 L225.9 267.0 L226.2 265.4 L226.4 263.9 L226.6 262.3 L226.8 262.0 L227.0 262.8 L227.3 263.5 L227.5 265.3 L227.7 266.4 L227.9 266.7 L228.1 266.3 L228.3 264.7 L228.6 261.0 L228.8 256.5 L229.0 250.2 L229.2 242.7 L229.4 235.0 L229.7 226.3 L229.9 216.3 L230.1 204.5 L230.3 193.1 L230.5 184.1 L230.8 177.8 L231.0 175.6 L231.2 177.2 L231.4 182.3 L231.6 191.2 L231.8 202.1 L232.1 213.9 L232.3 226.5 L232.5 237.9 L232.7 247.4 L232.9 255.7 L233.2 262.5 L233.4 267.4 L233.6 270.5 L233.8 272.6 L234.0 273.7 L234.3 274.0 L234.5 274.5 L234.7 275.0 L234.9 275.4 L235.1 275.8 L235.4 276.1 L235.6 275.8 L235.8 276.5 L236.0 276.4 L236.2 276.8 L236.4 276.5 L236.7 276.6 L236.9 276.7 L237.1 276.6 L237.3 276.1 L237.5 276.4 L237.8 276.2 L238.0 276.0 L238.2 275.8 L238.4 276.0 L238.6 276.2 L238.9 275.8 L239.1 276.3 L239.3 276.3 L239.5 276.1 L239.7 275.9 L239.9 276.0 L240.2 275.8 L240.4 275.7 L240.6 275.5 L240.8 275.9 L241.0 275.9 L241.3 275.8 L241.5 275.9 L241.7 276.4 L241.9 276.5 L242.1 276.7 L242.4 276.9 L242.6 276.9 L242.8 276.9 L243.0 276.2 L243.2 276.1 L243.5 275.7 L243.7 276.1 L243.9 275.6 L244.1 275.6 L244.3 275.5 L244.5 275.8 L244.8 275.4 L245.0 276.1 L245.2 275.9 L245.4 275.9 L245.6 275.8 L245.9 275.9 L246.1 275.9 L246.3 275.8 L246.5 275.7 L246.7 276.1 L247.0 275.9 L247.2 275.9 L247.4 276.0 L247.6 276.5 L247.8 276.4 L248.0 276.4 L248.3 276.6 L248.5 276.6 L248.7 276.6 L248.9 276.3 L249.1 276.0 L249.4 276.1 L249.6 275.6 L249.8 275.2 L250.0 275.2 L250.2 275.2 L250.5 275.5 L250.7 275.5 L250.9 275.7 L251.1 276.0 L251.3 276.0 L251.6 276.6 L251.8 276.3 L252.0 276.8 L252.2 276.4 L252.4 276.4 L252.6 276.5 L252.9 276.1 L253.1 276.2 L253.3 276.1 L253.5 275.9 L253.7 276.4 L254.0 276.6 L254.2 276.4 L254.4 276.2 L254.6 276.4 L254.8 276.3 L255.1 275.7 L255.3 275.7 L255.5 275.7 L255.7 275.3 L255.9 275.6 L256.1 275.3 L256.4 275.7 L256.6 275.7 L256.8 275.7 L257.0 275.9 L257.2 276.1 L257.5 276.6 L257.7 276.7 L257.9 276.9 L258.1 276.9 L258.3 276.6 L258.6 276.3 L258.8 276.1 L259.0 276.0 L259.2 275.7 L259.4 276.0 L259.7 276.0 L259.9 275.9 L260.1 276.0 L260.3 276.1 L260.5 276.0 L260.7 275.9 L261.0 276.0 L261.2 276.1 L261.4 275.7 L261.6 275.5 L261.8 275.8 L262.1 276.0 L262.3 276.1 L262.5 275.7 L262.7 276.3 L262.9 276.1 L263.2 276.4 L263.4 276.7 L263.6 276.5 L263.8 276.9 L264.0 276.9 L264.2 276.7 L264.5 276.7 L264.7 276.0 L264.9 276.1 L265.1 276.0 L265.3 275.9 L265.6 275.4 L265.8 275.5 L266.0 275.4 L266.2 275.5 L266.4 275.6 L266.7 275.7 L266.9 276.0 L267.1 276.4 L267.3 276.2 L267.5 276.4 L267.8 276.5 L268.0 276.2 L268.2 276.0 L268.4 276.3 L268.6 276.3 L268.8 276.3 L269.1 276.2 L269.3 276.4 L269.5 276.4 L269.7 276.4 L269.9 276.6 L270.2 276.2 L270.4 276.0 L270.6 276.3 L270.8 275.6 L271.0 275.5 L271.3 275.7 L271.5 275.4 L271.7 275.3 L271.9 275.2 L272.1 275.7 L272.3 275.8 L272.6 275.8 L272.8 276.1 L273.0 276.2 L273.2 276.6 L273.4 276.5 L273.7 276.8 L273.9 276.4 L274.1 276.2 L274.3 276.2 L274.5 276.0 L274.8 276.3 L275.0 275.8 L275.2 275.7 L275.4 275.8 L275.6 276.1 L275.9 275.9 L276.1 276.2 L276.3 275.8 L276.5 275.8 L276.7 276.0 L276.9 276.0 L277.2 275.7 L277.4 275.5 L277.6 275.4 L277.8 275.6 L278.0 276.0 L278.3 275.7 L278.5 276.4 L278.7 276.2 L278.9 276.8 L279.1 276.8 L279.4 276.6 L279.6 276.9 L279.8 276.9 L280.0 276.5 L280.2 276.2 L280.4 275.9 L280.7 275.8 L280.9 275.5 L281.1 275.7 L281.3 275.4 L281.5 275.9 L281.8 275.9 L282.0 275.8 L282.2 276.1 L282.4 275.9 L282.6 275.9 L282.9 276.0 L283.1 275.8 L283.3 275.9 L283.5 276.1 L283.7 276.0 L284.0 275.8 L284.2 275.9 L284.4 276.4 L284.6 276.2 L284.8 276.2 L285.0 276.6 L285.3 276.6 L285.5 276.9 L285.7 276.5 L285.9 276.4 L286.1 276.1 L286.4 276.2 L286.6 275.4 L286.8 275.5 L287.0 275.5 L287.2 275.2 L287.5 275.4 L287.7 275.6 L287.9 275.6 L288.1 276.2 L288.3 276.1 L288.5 276.3 L288.8 276.1 L289.0 276.2 L289.2 276.6 L289.4 276.4 L289.6 276.5 L289.9 276.3 L290.1 276.0 L290.3 275.9 L290.5 276.2 L290.7 276.4 L291.0 276.5 L291.2 276.3 L291.4 276.1 L291.6 276.5 L291.8 276.0 L292.1 276.3 L292.3 276.1 L292.5 275.9 L292.7 275.4 L292.9 275.6 L293.1 275.5 L293.4 275.4 L293.6 275.9 L293.8 275.7 L294.0 276.3 L294.2 276.3 L294.5 276.7 L294.7 276.9 L294.9 276.7 L295.1 276.8 L295.3 276.7 L295.6 276.6 L295.8 276.3 L296.0 276.4 L296.2 276.2 L296.4 275.8 L296.6 275.7 L296.9 275.8 L297.1 275.5 L297.3 275.5 L297.5 275.1 L297.7 275.0 L298.0 273.8 L298.2 272.8 L298.4 270.4 L298.6 267.4 L298.8 262.6 L299.1 255.8 L299.3 248.1 L299.5 237.7 L299.7 226.5 L299.9 215.0 L300.2 203.0 L300.4 191.9 L300.6 183.6 L300.8 178.3 L301.0 176.2 L301.2 178.8 L301.5 184.6 L301.7 194.1 L301.9 205.0 L302.1 216.7 L302.3 227.9 L302.6 237.3 L302.8 245.0 L303.0 251.1 L303.2 255.8 L303.4 259.6 L303.7 261.2 L303.9 262.0 L304.1 262.4 L304.3 262.1 L304.5 261.9 L304.7 261.6 L305.0 261.8 L305.2 262.7 L305.4 263.9 L305.6 266.0 L305.8 268.1 L306.1 270.2 L306.3 271.6 L306.5 272.4 L306.7 272.5 L306.9 272.4 L307.2 272.3 L307.4 272.6 L307.6 272.3 L307.8 271.5 L308.0 271.6 L308.2 271.4 L308.5 271.8 L308.7 272.0 L308.9 272.3 L309.1 272.8 L309.3 273.1 L309.6 274.0 L309.8 274.0 L310.0 274.2 L310.2 274.9 L310.4 274.8 L310.7 274.7 L310.9 274.9 L311.1 274.9 L311.3 274.8 L311.5 274.4 L311.8 274.6 L312.0 274.0 L312.2 274.0 L312.4 274.1 L312.6 274.1 L312.8 274.4 L313.1 274.8 L313.3 274.9 L313.5 275.1 L313.7 275.0 L313.9 275.3 L314.2 275.8 L314.4 275.4 L314.6 275.6 L314.8 275.5 L315.0 275.5 L315.3 275.7 L315.5 275.3 L315.7 275.2 L315.9 275.3 L316.1 275.2 L316.3 275.3 L316.6 275.5 L316.8 275.4 L317.0 275.9 L317.2 275.8 L317.4 275.9 L317.7 276.2 L317.9 276.1 L318.1 276.0 L318.3 276.0 L318.5 276.3 L318.8 275.9 L319.0 276.0 L319.2 276.2 L319.4 275.9 L319.6 276.0 L319.9 276.0 L320.1 276.1 L320.3 275.7 L320.5 275.9 L320.7 275.9 L320.9 275.9 L321.2 275.8 L321.4 276.5 L321.6 276.2 L321.8 276.1 L322.0 276.4 L322.3 276.4 L322.5 276.6 L322.7 276.5 L322.9 276.4" fill="none" stroke="#0808ff" stroke-width="1.6" stroke-linejoin="round"/>
</svg>
<path d="M209.00 280.50 H322.50" stroke="#555" stroke-width="0.8" fill="none"/>
<path d="M209.50 280.20 H215.00 M233.50 280.20 H298.00 M314.00 280.20 H322.00" stroke="#1414ff" stroke-width="1.3" fill="none" stroke-dasharray="7 0.6 3 0.4"/>
<path d="M209.00 280.90 V167.60 H322.50 V280.90" stroke="#383838" stroke-width="1.5" fill="none"/>
<text x="267.60" y="180.20" font-size="16.3" text-anchor="middle" fill="#111" font-weight="normal" font-style="normal" >(e)</text>
<text x="201.20" y="178.20" font-size="15.5" text-anchor="end" fill="#2b2b2b" font-weight="normal" font-style="normal" >1</text>
<text x="201.20" y="229.10" font-size="15.5" text-anchor="end" fill="#2b2b2b" font-weight="normal" font-style="normal" >0.5</text>
<text x="201.20" y="279.80" font-size="15.5" text-anchor="end" fill="#2b2b2b" font-weight="normal" font-style="normal" >0</text>
<svg x="209.00" y="295.40" width="113.50" height="114.00" viewBox="209.00 295.40 113.50 114.00">
<path d="M209.1 404.3 L209.3 404.1 L209.5 404.1 L209.7 404.4 L210.0 404.4 L210.2 404.1 L210.4 404.2 L210.6 403.8 L210.8 403.9 L211.1 403.9 L211.3 403.9 L211.5 403.9 L211.7 404.2 L211.9 404.1 L212.1 404.3 L212.4 403.8 L212.6 404.4 L212.8 403.9 L213.0 404.3 L213.2 403.9 L213.5 404.1 L213.7 403.9 L213.9 403.6 L214.1 404.0 L214.3 403.9 L214.6 403.3 L214.8 403.5 L215.0 403.7 L215.2 403.2 L215.4 403.2 L215.7 403.8 L215.9 403.6 L216.1 403.9 L216.3 403.8 L216.5 403.6 L216.7 403.9 L217.0 403.6 L217.2 403.9 L217.4 403.7 L217.6 403.1 L217.8 403.2 L218.1 403.0 L218.3 402.7 L218.5 402.6 L218.7 402.6 L218.9 402.7 L219.2 402.3 L219.4 402.2 L219.6 402.2 L219.8 402.5 L220.0 402.9 L220.2 403.0 L220.5 402.8 L220.7 402.8 L220.9 403.1 L221.1 402.9 L221.3 402.6 L221.6 402.1 L221.8 401.6 L222.0 401.4 L222.2 401.3 L222.4 400.4 L222.7 400.4 L222.9 400.2 L223.1 400.3 L223.3 400.3 L223.5 400.5 L223.8 400.5 L224.0 401.1 L224.2 401.1 L224.4 401.5 L224.6 401.2 L224.8 401.4 L225.1 400.9 L225.3 400.2 L225.5 399.0 L225.7 397.9 L225.9 395.9 L226.2 394.0 L226.4 392.0 L226.6 390.2 L226.8 388.9 L227.0 389.2 L227.3 389.6 L227.5 391.3 L227.7 392.1 L227.9 393.3 L228.1 393.4 L228.3 392.0 L228.6 389.5 L228.8 385.9 L229.0 380.0 L229.2 372.6 L229.4 364.7 L229.7 355.6 L229.9 345.5 L230.1 333.9 L230.3 322.6 L230.5 313.4 L230.8 307.4 L231.0 305.4 L231.2 307.3 L231.4 312.4 L231.6 320.6 L231.8 331.3 L232.1 343.2 L232.3 355.4 L232.5 366.3 L232.7 376.1 L232.9 384.1 L233.2 390.7 L233.4 395.0 L233.6 398.4 L233.8 401.1 L234.0 401.4 L234.3 402.0 L234.5 403.1 L234.7 403.3 L234.9 403.9 L235.1 404.1 L235.4 404.3 L235.6 404.7 L235.8 404.6 L236.0 404.6 L236.2 404.2 L236.4 404.1 L236.7 404.3 L236.9 403.8 L237.1 404.0 L237.3 404.1 L237.5 404.0 L237.8 403.7 L238.0 404.0 L238.2 403.9 L238.4 403.7 L238.6 403.6 L238.9 403.6 L239.1 403.7 L239.3 403.5 L239.5 403.2 L239.7 403.3 L239.9 403.4 L240.2 403.7 L240.4 403.8 L240.6 403.8 L240.8 404.2 L241.0 404.7 L241.3 404.5 L241.5 404.4 L241.7 404.5 L241.9 404.4 L242.1 404.2 L242.4 404.2 L242.6 403.9 L242.8 403.9 L243.0 403.9 L243.2 403.7 L243.5 403.7 L243.7 403.3 L243.9 403.5 L244.1 403.7 L244.3 403.7 L244.5 404.1 L244.8 403.9 L245.0 403.8 L245.2 404.0 L245.4 404.0 L245.6 403.9 L245.9 403.9 L246.1 403.8 L246.3 404.2 L246.5 404.3 L246.7 404.4 L247.0 404.3 L247.2 404.4 L247.4 404.5 L247.6 404.3 L247.8 404.6 L248.0 404.7 L248.3 404.2 L248.5 404.0 L248.7 403.9 L248.9 403.4 L249.1 403.4 L249.4 403.5 L249.6 403.4 L249.8 403.1 L250.0 403.9 L250.2 403.9 L250.5 404.1 L250.7 404.3 L250.9 404.3 L251.1 404.5 L251.3 404.1 L251.6 404.3 L251.8 404.1 L252.0 404.4 L252.2 404.1 L252.4 404.0 L252.6 403.9 L252.9 404.3 L253.1 404.2 L253.3 404.0 L253.5 404.0 L253.7 404.4 L254.0 404.1 L254.2 403.8 L254.4 403.9 L254.6 403.5 L254.8 403.4 L255.1 403.1 L255.3 403.3 L255.5 403.2 L255.7 403.6 L255.9 403.5 L256.1 404.0 L256.4 404.1 L256.6 404.4 L256.8 404.6 L257.0 404.8 L257.2 404.8 L257.5 404.5 L257.7 404.6 L257.9 404.6 L258.1 403.9 L258.3 404.1 L258.6 403.6 L258.8 403.7 L259.0 403.8 L259.2 403.6 L259.4 403.6 L259.7 404.0 L259.9 404.1 L260.1 403.8 L260.3 403.6 L260.5 403.7 L260.7 403.5 L261.0 403.7 L261.2 403.5 L261.4 403.8 L261.6 403.8 L261.8 403.9 L262.1 404.1 L262.3 404.3 L262.5 404.2 L262.7 404.8 L262.9 404.8 L263.2 404.8 L263.4 404.3 L263.6 404.5 L263.8 404.5 L264.0 403.8 L264.2 403.6 L264.5 403.4 L264.7 403.5 L264.9 403.3 L265.1 403.5 L265.3 403.7 L265.6 403.4 L265.8 403.6 L266.0 404.1 L266.2 403.8 L266.4 404.4 L266.7 404.2 L266.9 404.4 L267.1 404.2 L267.3 404.2 L267.5 403.9 L267.8 404.2 L268.0 404.3 L268.2 404.4 L268.4 404.4 L268.6 404.2 L268.8 404.4 L269.1 404.7 L269.3 404.3 L269.5 404.3 L269.7 404.1 L269.9 403.9 L270.2 403.6 L270.4 403.3 L270.6 403.3 L270.8 403.2 L271.0 403.3 L271.3 403.3 L271.5 403.6 L271.7 403.8 L271.9 404.0 L272.1 404.1 L272.3 404.5 L272.6 404.2 L272.8 404.5 L273.0 404.2 L273.2 404.2 L273.4 404.0 L273.7 404.0 L273.9 404.1 L274.1 404.1 L274.3 403.9 L274.5 403.8 L274.8 403.8 L275.0 404.3 L275.2 404.3 L275.4 404.3 L275.6 404.2 L275.9 404.1 L276.1 404.0 L276.3 403.7 L276.5 403.7 L276.7 403.3 L276.9 403.4 L277.2 403.2 L277.4 403.4 L277.6 403.8 L277.8 403.9 L278.0 404.7 L278.3 404.7 L278.5 404.4 L278.7 404.7 L278.9 404.8 L279.1 404.3 L279.4 404.4 L279.6 404.1 L279.8 404.0 L280.0 403.9 L280.2 403.9 L280.4 403.5 L280.7 403.3 L280.9 403.3 L281.1 403.6 L281.3 403.5 L281.5 404.0 L281.8 404.0 L282.0 403.6 L282.2 403.8 L282.4 403.7 L282.6 404.1 L282.9 404.0 L283.1 403.8 L283.3 403.8 L283.5 403.8 L283.7 404.0 L284.0 404.5 L284.2 404.6 L284.4 404.4 L284.6 404.3 L284.8 404.6 L285.0 404.6 L285.3 404.2 L285.5 404.0 L285.7 403.8 L285.9 403.7 L286.1 403.5 L286.4 403.2 L286.6 403.5 L286.8 403.4 L287.0 403.3 L287.2 403.6 L287.5 404.1 L287.7 404.1 L287.9 404.5 L288.1 404.1 L288.3 404.2 L288.5 404.5 L288.8 404.2 L289.0 404.1 L289.2 404.1 L289.4 404.2 L289.6 404.2 L289.9 404.3 L290.1 403.9 L290.3 404.4 L290.5 404.3 L290.7 404.3 L291.0 404.4 L291.2 404.1 L291.4 404.1 L291.6 403.8 L291.8 403.6 L292.1 403.5 L292.3 403.0 L292.5 403.4 L292.7 403.5 L292.9 403.5 L293.1 403.9 L293.4 404.0 L293.6 404.2 L293.8 404.7 L294.0 404.5 L294.2 404.8 L294.5 404.7 L294.7 404.3 L294.9 404.0 L295.1 404.1 L295.3 404.2 L295.6 403.9 L295.8 404.0 L296.0 403.6 L296.2 404.0 L296.4 404.0 L296.6 403.8 L296.9 403.8 L297.1 403.7 L297.3 403.6 L297.5 402.9 L297.7 402.6 L298.0 401.4 L298.2 401.1 L298.4 398.9 L298.6 395.7 L298.8 390.9 L299.1 384.8 L299.3 377.3 L299.5 367.7 L299.7 356.9 L299.9 345.5 L300.2 334.0 L300.4 323.8 L300.6 315.6 L300.8 310.6 L301.0 309.1 L301.2 311.5 L301.5 316.8 L301.7 325.4 L301.9 336.3 L302.1 347.2 L302.3 357.4 L302.6 366.5 L302.8 372.9 L303.0 378.4 L303.2 382.5 L303.4 385.7 L303.7 387.6 L303.9 389.3 L304.1 390.1 L304.3 390.5 L304.5 390.5 L304.7 390.7 L305.0 391.2 L305.2 391.8 L305.4 393.5 L305.6 395.2 L305.8 396.8 L306.1 398.0 L306.3 399.4 L306.5 399.8 L306.7 399.5 L306.9 399.3 L307.2 399.0 L307.4 399.1 L307.6 399.1 L307.8 399.2 L308.0 398.9 L308.2 399.3 L308.5 399.9 L308.7 400.2 L308.9 401.1 L309.1 401.4 L309.3 401.6 L309.6 402.4 L309.8 402.4 L310.0 402.7 L310.2 402.4 L310.4 402.3 L310.7 402.3 L310.9 402.2 L311.1 402.4 L311.3 401.9 L311.5 402.0 L311.8 401.9 L312.0 402.2 L312.2 401.8 L312.4 402.2 L312.6 402.5 L312.8 402.5 L313.1 402.7 L313.3 403.1 L313.5 403.3 L313.7 403.2 L313.9 403.6 L314.2 403.3 L314.4 403.8 L314.6 403.3 L314.8 403.4 L315.0 403.2 L315.3 402.9 L315.5 403.4 L315.7 403.3 L315.9 403.0 L316.1 403.1 L316.3 403.4 L316.6 403.3 L316.8 403.5 L317.0 403.5 L317.2 403.7 L317.4 404.0 L317.7 404.1 L317.9 404.2 L318.1 404.2 L318.3 404.3 L318.5 403.7 L318.8 404.2 L319.0 403.8 L319.2 404.1 L319.4 403.6 L319.6 403.8 L319.9 404.0 L320.1 403.7 L320.3 403.7 L320.5 403.7 L320.7 404.2 L320.9 404.1 L321.2 404.0 L321.4 404.3 L321.6 404.1 L321.8 404.1 L322.0 404.1 L322.3 404.0 L322.5 404.0 L322.7 404.3 L322.9 404.0" fill="none" stroke="#0808ff" stroke-width="1.6" stroke-linejoin="round"/>
</svg>
<path d="M209.00 408.40 H322.50" stroke="#222" stroke-width="1.4" fill="none"/>
<path d="M209.00 408.80 V295.40 H322.50 V408.80" stroke="#383838" stroke-width="1.5" fill="none"/>
<text x="267.60" y="308.00" font-size="16.3" text-anchor="middle" fill="#111" font-weight="normal" font-style="normal" >(f)</text>
<text x="201.20" y="306.00" font-size="15.5" text-anchor="end" fill="#2b2b2b" font-weight="normal" font-style="normal" >1</text>
<text x="201.20" y="356.90" font-size="15.5" text-anchor="end" fill="#2b2b2b" font-weight="normal" font-style="normal" >0.5</text>
<text x="201.20" y="407.60" font-size="15.5" text-anchor="end" fill="#2b2b2b" font-weight="normal" font-style="normal" >0</text>
<text x="224.50" y="427.50" font-size="15.5" text-anchor="end" fill="#2b2b2b" font-weight="normal" font-style="normal" >-15</text>
<text x="266.90" y="427.50" font-size="15.5" text-anchor="middle" fill="#2b2b2b" font-weight="normal" font-style="normal" >0</text>
<text x="315.90" y="427.50" font-size="15.5" text-anchor="middle" fill="#2b2b2b" font-weight="normal" font-style="normal" >15</text>
<svg x="361.20" y="38.90" width="115.00" height="114.40" viewBox="0 0 115.00 114.40">
<g filter="url(#jet)">
<rect x="-2" y="-2" width="119.00" height="118.40" fill="#000"/>
<path d="M22.50 67.10 L22.71 70.89 L23.33 74.68 L24.36 78.48 L25.80 82.27 L27.66 86.06 L29.93 89.85 L32.62 93.65 L35.72 97.44 L39.23 101.23 L43.15 105.02 L47.49 108.82 L52.24 112.61 L57.40 116.40 L6.40 116.40 L20.70 67.10Z" fill="url(#g0)" filter="url(#b1)" style="mix-blend-mode:plus-lighter"/>
<path d="M22.00 67.10 L22.22 72.58 L22.86 78.06 L23.94 83.53 L25.45 89.01 L27.39 94.49 L29.76 99.97 L32.56 105.44 L35.79 110.92 L39.45 116.40 L6.40 116.40 L20.70 67.10Z" fill="url(#g1)" filter="url(#b15)" style="mix-blend-mode:plus-lighter"/>
<path d="M22.00 67.10 L16.90 116.40 L6.90 116.40 L20.50 67.10Z" fill="url(#g2)" filter="url(#b1)" style="mix-blend-mode:plus-lighter"/>
<path d="M20.90 68.10 L7.70 115.40" fill="none" stroke="url(#g3)" stroke-width="2.0" stroke-linecap="round" stroke-linejoin="round" filter="url(#b1)" style="mix-blend-mode:plus-lighter"/>
<path d="M22.50 68.10 L26.90 81.10 L33.40 94.10 L41.40 113.10" fill="none" stroke="url(#g4)" stroke-width="1.7" stroke-linecap="round" stroke-linejoin="round" filter="url(#b1)" style="mix-blend-mode:plus-lighter"/>
<path d="M11.90 115.40 L17.14 95.20 L23.59 76.00 L30.95 93.20 L35.90 115.40" fill="none" stroke="url(#g5)" stroke-width="0.9" stroke-linecap="round" stroke-linejoin="round" filter="url(#b05)" style="mix-blend-mode:plus-lighter"/>
<path d="M15.40 115.40 L19.37 98.70 L24.54 83.00 L29.92 96.70 L32.90 115.40" fill="none" stroke="url(#g6)" stroke-width="0.9" stroke-linecap="round" stroke-linejoin="round" filter="url(#b05)" style="mix-blend-mode:plus-lighter"/>
<path d="M18.40 115.40 L21.34 102.20 L25.49 90.00 L29.14 100.20 L30.40 115.40" fill="none" stroke="url(#g7)" stroke-width="0.9" stroke-linecap="round" stroke-linejoin="round" filter="url(#b05)" style="mix-blend-mode:plus-lighter"/>
<path d="M20.90 115.40 L23.07 105.70 L26.44 97.00 L28.37 103.70 L27.90 115.40" fill="none" stroke="url(#g8)" stroke-width="0.9" stroke-linecap="round" stroke-linejoin="round" filter="url(#b05)" style="mix-blend-mode:plus-lighter"/>
<path d="M23.50 73.10 L35.20 93.10 L46.90 115.40" fill="none" stroke="url(#g9)" stroke-width="0.9" stroke-linecap="round" stroke-linejoin="round" filter="url(#b05)" style="mix-blend-mode:plus-lighter"/>
<path d="M23.50 73.10 L37.00 93.10 L50.90 115.40" fill="none" stroke="url(#g10)" stroke-width="0.9" stroke-linecap="round" stroke-linejoin="round" filter="url(#b05)" style="mix-blend-mode:plus-lighter"/>
<path d="M22.10 63.60 L20.50 63.60 L18.70 73.10 L24.50 73.10Z" fill="#4c4c4c" filter="url(#b1)" style="mix-blend-mode:plus-lighter" />
<path d="M20.50 70.10 L17.43 81.10" fill="none" stroke="#292929" stroke-width="2.0" stroke-linecap="round" stroke-linejoin="round" filter="url(#b1)" style="mix-blend-mode:plus-lighter"/>
<path d="M22.90 70.10 L27.10 80.10" fill="none" stroke="#242424" stroke-width="1.8" stroke-linecap="round" stroke-linejoin="round" filter="url(#b1)" style="mix-blend-mode:plus-lighter"/>
<path d="M22.30 52.00 L17.30 52.00 L11.80 -4.00 L31.40 -4.00Z" fill="#171717" filter="url(#b15)" style="mix-blend-mode:plus-lighter" />
<path d="M21.13 50.00 L18.13 50.00 L13.60 -4.00 L28.60 -4.00Z" fill="#171717" filter="url(#b15)" style="mix-blend-mode:plus-lighter" />
<path d="M20.46 48.00 L18.66 48.00 L15.40 -4.00 L24.00 -4.00Z" fill="#141414" filter="url(#b15)" style="mix-blend-mode:plus-lighter" />
<path d="M23.40 -2.00 L21.71 32.00" fill="none" stroke="#080808" stroke-width="1.1" stroke-linecap="round" stroke-linejoin="round" filter="url(#b05)" style="mix-blend-mode:plus-lighter"/>
<path d="M20.80 -2.00 L20.67 32.00" fill="none" stroke="#0a0a0a" stroke-width="1.1" stroke-linecap="round" stroke-linejoin="round" filter="url(#b05)" style="mix-blend-mode:plus-lighter"/>
<path d="M18.20 -2.00 L19.63 32.00" fill="none" stroke="#0a0a0a" stroke-width="1.1" stroke-linecap="round" stroke-linejoin="round" filter="url(#b05)" style="mix-blend-mode:plus-lighter"/>
<path d="M15.60 -2.00 L18.59 32.00" fill="none" stroke="#080808" stroke-width="1.1" stroke-linecap="round" stroke-linejoin="round" filter="url(#b05)" style="mix-blend-mode:plus-lighter"/>
<path d="M19.59 16.00 L19.47 45.00" fill="none" stroke="#0d0d0d" stroke-width="2.8" stroke-linecap="round" stroke-linejoin="round" filter="url(#b15)" style="mix-blend-mode:plus-lighter"/>
<path d="M19.13 28.00 L19.47 45.00" fill="none" stroke="#171717" stroke-width="2.6" stroke-linecap="round" stroke-linejoin="round" filter="url(#b15)" style="mix-blend-mode:plus-lighter"/>
<path d="M18.87 35.00 L19.56 46.00" fill="none" stroke="#1f1f1f" stroke-width="2.2" stroke-linecap="round" stroke-linejoin="round" filter="url(#b1)" style="mix-blend-mode:plus-lighter"/>
<path d="M10.60 -2.00 L14.05 44.00" fill="none" stroke="#080808" stroke-width="0.9" stroke-linecap="round" stroke-linejoin="round" filter="url(#b05)" style="mix-blend-mode:plus-lighter"/>
<path d="M8.10 -2.00 L11.55 40.00" fill="none" stroke="#050505" stroke-width="0.9" stroke-linecap="round" stroke-linejoin="round" filter="url(#b05)" style="mix-blend-mode:plus-lighter"/>
<path d="M19.05 40.00 L20.50 57.10 L21.59 68.00" fill="none" stroke="#2e2e2e" stroke-width="2.8" stroke-linecap="round" stroke-linejoin="round" filter="url(#b1)" style="mix-blend-mode:plus-lighter"/>
<path d="M19.30 43.00 L20.50 57.10 L21.47 66.80" fill="none" stroke="#333333" stroke-width="2.7" stroke-linecap="round" stroke-linejoin="round" filter="url(#b1)" style="mix-blend-mode:plus-lighter"/>
<path d="M19.56 46.00 L20.50 57.10 L21.35 65.60" fill="none" stroke="#404040" stroke-width="2.6" stroke-linecap="round" stroke-linejoin="round" filter="url(#b1)" style="mix-blend-mode:plus-lighter"/>
<path d="M19.81 49.00 L20.50 57.10 L21.23 64.40" fill="none" stroke="#4c4c4c" stroke-width="2.5" stroke-linecap="round" stroke-linejoin="round" filter="url(#b1)" style="mix-blend-mode:plus-lighter"/>
<path d="M20.07 52.00 L20.50 57.10 L21.11 63.20" fill="none" stroke="#595959" stroke-width="2.4" stroke-linecap="round" stroke-linejoin="round" filter="url(#b1)" style="mix-blend-mode:plus-lighter"/>
<path d="M93.30 67.10 L93.09 70.89 L92.47 74.68 L91.44 78.48 L90.00 82.27 L88.14 86.06 L85.87 89.85 L83.18 93.65 L80.08 97.44 L76.57 101.23 L72.65 105.02 L68.31 108.82 L63.56 112.61 L58.40 116.40 L109.40 116.40 L95.10 67.10Z" fill="url(#g11)" filter="url(#b1)" style="mix-blend-mode:plus-lighter"/>
<path d="M93.80 67.10 L93.58 72.58 L92.94 78.06 L91.86 83.53 L90.35 89.01 L88.41 94.49 L86.04 99.97 L83.24 105.44 L80.01 110.92 L76.35 116.40 L109.40 116.40 L95.10 67.10Z" fill="url(#g12)" filter="url(#b15)" style="mix-blend-mode:plus-lighter"/>
<path d="M93.80 67.10 L98.90 116.40 L108.90 116.40 L95.30 67.10Z" fill="url(#g13)" filter="url(#b1)" style="mix-blend-mode:plus-lighter"/>
<path d="M94.90 68.10 L108.10 115.40" fill="none" stroke="url(#g14)" stroke-width="2.0" stroke-linecap="round" stroke-linejoin="round" filter="url(#b1)" style="mix-blend-mode:plus-lighter"/>
<path d="M93.30 68.10 L88.90 81.10 L82.40 94.10 L74.40 113.10" fill="none" stroke="url(#g15)" stroke-width="1.7" stroke-linecap="round" stroke-linejoin="round" filter="url(#b1)" style="mix-blend-mode:plus-lighter"/>
<path d="M103.90 115.40 L98.66 95.20 L92.21 76.00 L84.85 93.20 L79.90 115.40" fill="none" stroke="url(#g16)" stroke-width="0.9" stroke-linecap="round" stroke-linejoin="round" filter="url(#b05)" style="mix-blend-mode:plus-lighter"/>
<path d="M100.40 115.40 L96.43 98.70 L91.26 83.00 L85.88 96.70 L82.90 115.40" fill="none" stroke="url(#g17)" stroke-width="0.9" stroke-linecap="round" stroke-linejoin="round" filter="url(#b05)" style="mix-blend-mode:plus-lighter"/>
<path d="M97.40 115.40 L94.45 102.20 L90.31 90.00 L86.66 100.20 L85.40 115.40" fill="none" stroke="url(#g18)" stroke-width="0.9" stroke-linecap="round" stroke-linejoin="round" filter="url(#b05)" style="mix-blend-mode:plus-lighter"/>
<path d="M94.90 115.40 L92.73 105.70 L89.36 97.00 L87.43 103.70 L87.90 115.40" fill="none" stroke="url(#g19)" stroke-width="0.9" stroke-linecap="round" stroke-linejoin="round" filter="url(#b05)" style="mix-blend-mode:plus-lighter"/>
<path d="M92.30 73.10 L80.60 93.10 L68.90 115.40" fill="none" stroke="url(#g20)" stroke-width="0.9" stroke-linecap="round" stroke-linejoin="round" filter="url(#b05)" style="mix-blend-mode:plus-lighter"/>
<path d="M92.30 73.10 L78.80 93.10 L64.90 115.40" fill="none" stroke="url(#g21)" stroke-width="0.9" stroke-linecap="round" stroke-linejoin="round" filter="url(#b05)" style="mix-blend-mode:plus-lighter"/>
<path d="M93.70 63.60 L95.30 63.60 L97.10 73.10 L91.30 73.10Z" fill="#4c4c4c" filter="url(#b1)" style="mix-blend-mode:plus-lighter" />
<path d="M95.30 70.10 L98.37 81.10" fill="none" stroke="#292929" stroke-width="2.0" stroke-linecap="round" stroke-linejoin="round" filter="url(#b1)" style="mix-blend-mode:plus-lighter"/>
<path d="M92.90 70.10 L88.70 80.10" fill="none" stroke="#242424" stroke-width="1.8" stroke-linecap="round" stroke-linejoin="round" filter="url(#b1)" style="mix-blend-mode:plus-lighter"/>
<path d="M93.50 52.00 L98.50 52.00 L104.00 -4.00 L84.40 -4.00Z" fill="#171717" filter="url(#b15)" style="mix-blend-mode:plus-lighter" />
<path d="M94.67 50.00 L97.67 50.00 L102.20 -4.00 L87.20 -4.00Z" fill="#171717" filter="url(#b15)" style="mix-blend-mode:plus-lighter" />
<path d="M95.34 48.00 L97.14 48.00 L100.40 -4.00 L91.80 -4.00Z" fill="#141414" filter="url(#b15)" style="mix-blend-mode:plus-lighter" />
<path d="M92.40 -2.00 L94.09 32.00" fill="none" stroke="#080808" stroke-width="1.1" stroke-linecap="round" stroke-linejoin="round" filter="url(#b05)" style="mix-blend-mode:plus-lighter"/>
<path d="M95.00 -2.00 L95.13 32.00" fill="none" stroke="#0a0a0a" stroke-width="1.1" stroke-linecap="round" stroke-linejoin="round" filter="url(#b05)" style="mix-blend-mode:plus-lighter"/>
<path d="M97.60 -2.00 L96.17 32.00" fill="none" stroke="#0a0a0a" stroke-width="1.1" stroke-linecap="round" stroke-linejoin="round" filter="url(#b05)" style="mix-blend-mode:plus-lighter"/>
<path d="M100.20 -2.00 L97.21 32.00" fill="none" stroke="#080808" stroke-width="1.1" stroke-linecap="round" stroke-linejoin="round" filter="url(#b05)" style="mix-blend-mode:plus-lighter"/>
<path d="M96.21 16.00 L96.33 45.00" fill="none" stroke="#0d0d0d" stroke-width="2.8" stroke-linecap="round" stroke-linejoin="round" filter="url(#b15)" style="mix-blend-mode:plus-lighter"/>
<path d="M96.67 28.00 L96.33 45.00" fill="none" stroke="#171717" stroke-width="2.6" stroke-linecap="round" stroke-linejoin="round" filter="url(#b15)" style="mix-blend-mode:plus-lighter"/>
<path d="M96.93 35.00 L96.24 46.00" fill="none" stroke="#1f1f1f" stroke-width="2.2" stroke-linecap="round" stroke-linejoin="round" filter="url(#b1)" style="mix-blend-mode:plus-lighter"/>
<path d="M105.20 -2.00 L101.75 44.00" fill="none" stroke="#080808" stroke-width="0.9" stroke-linecap="round" stroke-linejoin="round" filter="url(#b05)" style="mix-blend-mode:plus-lighter"/>
<path d="M107.70 -2.00 L104.25 40.00" fill="none" stroke="#050505" stroke-width="0.9" stroke-linecap="round" stroke-linejoin="round" filter="url(#b05)" style="mix-blend-mode:plus-lighter"/>
<path d="M96.75 40.00 L95.30 57.10 L94.21 68.00" fill="none" stroke="#2e2e2e" stroke-width="2.8" stroke-linecap="round" stroke-linejoin="round" filter="url(#b1)" style="mix-blend-mode:plus-lighter"/>
<path d="M96.50 43.00 L95.30 57.10 L94.33 66.80" fill="none" stroke="#333333" stroke-width="2.7" stroke-linecap="round" stroke-linejoin="round" filter="url(#b1)" style="mix-blend-mode:plus-lighter"/>
<path d="M96.24 46.00 L95.30 57.10 L94.45 65.60" fill="none" stroke="#404040" stroke-width="2.6" stroke-linecap="round" stroke-linejoin="round" filter="url(#b1)" style="mix-blend-mode:plus-lighter"/>
<path d="M95.99 49.00 L95.30 57.10 L94.57 64.40" fill="none" stroke="#4c4c4c" stroke-width="2.5" stroke-linecap="round" stroke-linejoin="round" filter="url(#b1)" style="mix-blend-mode:plus-lighter"/>
<path d="M95.73 52.00 L95.30 57.10 L94.69 63.20" fill="none" stroke="#595959" stroke-width="2.4" stroke-linecap="round" stroke-linejoin="round" filter="url(#b1)" style="mix-blend-mode:plus-lighter"/>
<rect x="55.40" y="113.50" width="5" height="1.6" fill="#4c4c4c" filter="url(#b07)" style="mix-blend-mode:plus-lighter"/>
</g>
<path d="M0.5 57.10 H115.00" stroke="#fff" stroke-width="1.3" stroke-dasharray="2.85 2.3" stroke-dashoffset="1" fill="none"/>
</svg>
<text x="417.90" y="51.90" font-size="16.3" text-anchor="middle" fill="#fff" font-weight="normal" font-style="normal" >(g)</text>
<text x="355.50" y="49.30" font-size="15.5" text-anchor="end" fill="#2b2b2b" font-weight="normal" font-style="normal" >40</text>
<text x="355.50" y="101.60" font-size="15.5" text-anchor="end" fill="#2b2b2b" font-weight="normal" font-style="normal" >20</text>
<text x="355.50" y="154.10" font-size="15.5" text-anchor="end" fill="#2b2b2b" font-weight="normal" font-style="normal" >0</text>
<text transform="translate(483.0 96.10) rotate(90)" font-size="19" word-spacing="1.6" text-anchor="middle" fill="#2b2b2b">n = 2</text>
<svg x="361.20" y="166.60" width="115.00" height="114.40" viewBox="0 0 115.00 114.40">
<g filter="url(#jet)">
<rect x="-2" y="-2" width="119.00" height="118.40" fill="#000"/>
<path d="M22.20 67.80 L22.41 71.54 L23.03 75.28 L24.06 79.02 L25.51 82.75 L27.37 86.49 L29.64 90.23 L32.33 93.97 L35.43 97.71 L38.94 101.45 L42.86 105.18 L47.20 108.92 L51.96 112.66 L57.12 116.40 L6.20 116.40 L20.40 67.80Z" fill="url(#g22)" filter="url(#b1)" style="mix-blend-mode:plus-lighter"/>
<path d="M21.70 67.80 L21.92 73.20 L22.56 78.60 L23.64 84.00 L25.15 89.40 L27.09 94.80 L29.46 100.20 L32.26 105.60 L35.50 111.00 L39.16 116.40 L6.20 116.40 L20.40 67.80Z" fill="url(#g23)" filter="url(#b15)" style="mix-blend-mode:plus-lighter"/>
<path d="M21.70 67.80 L16.70 116.40 L2.90 116.40 L20.20 67.80Z" fill="url(#g24)" filter="url(#b1)" style="mix-blend-mode:plus-lighter"/>
<path d="M20.60 68.80 L15.53 83.80 L10.12 99.80 L3.70 115.40" fill="none" stroke="url(#g25)" stroke-width="2.0" stroke-linecap="round" stroke-linejoin="round" filter="url(#b1)" style="mix-blend-mode:plus-lighter"/>
<path d="M22.20 68.80 L26.70 81.80 L33.20 94.80 L41.20 113.80" fill="none" stroke="url(#g26)" stroke-width="1.7" stroke-linecap="round" stroke-linejoin="round" filter="url(#b1)" style="mix-blend-mode:plus-lighter"/>
<path d="M11.70 115.40 L16.98 95.20 L23.47 76.00 L30.78 93.20 L35.70 115.40" fill="none" stroke="url(#g27)" stroke-width="0.9" stroke-linecap="round" stroke-linejoin="round" filter="url(#b05)" style="mix-blend-mode:plus-lighter"/>
<path d="M15.20 115.40 L19.31 98.70 L24.63 83.00 L29.86 96.70 L32.70 115.40" fill="none" stroke="url(#g28)" stroke-width="0.9" stroke-linecap="round" stroke-linejoin="round" filter="url(#b05)" style="mix-blend-mode:plus-lighter"/>
<path d="M18.20 115.40 L21.39 102.20 L25.79 90.00 L29.19 100.20 L30.20 115.40" fill="none" stroke="url(#g29)" stroke-width="0.9" stroke-linecap="round" stroke-linejoin="round" filter="url(#b05)" style="mix-blend-mode:plus-lighter"/>
<path d="M20.70 115.40 L23.22 105.70 L26.95 97.00 L28.52 103.70 L27.70 115.40" fill="none" stroke="url(#g30)" stroke-width="0.9" stroke-linecap="round" stroke-linejoin="round" filter="url(#b05)" style="mix-blend-mode:plus-lighter"/>
<path d="M23.20 73.80 L34.90 93.80 L46.70 115.40" fill="none" stroke="url(#g31)" stroke-width="0.9" stroke-linecap="round" stroke-linejoin="round" filter="url(#b05)" style="mix-blend-mode:plus-lighter"/>
<path d="M23.20 73.80 L36.70 93.80 L50.70 115.40" fill="none" stroke="url(#g32)" stroke-width="0.9" stroke-linecap="round" stroke-linejoin="round" filter="url(#b05)" style="mix-blend-mode:plus-lighter"/>
<path d="M21.74 64.30 L20.14 64.30 L18.40 73.80 L24.20 73.80Z" fill="#4c4c4c" filter="url(#b1)" style="mix-blend-mode:plus-lighter" />
<path d="M20.20 70.80 L17.21 81.80" fill="none" stroke="#292929" stroke-width="2.0" stroke-linecap="round" stroke-linejoin="round" filter="url(#b1)" style="mix-blend-mode:plus-lighter"/>
<path d="M22.60 70.80 L26.80 80.80" fill="none" stroke="#242424" stroke-width="1.8" stroke-linecap="round" stroke-linejoin="round" filter="url(#b1)" style="mix-blend-mode:plus-lighter"/>
<path d="M21.78 54.00 L16.78 54.00 L11.20 -4.00 L30.80 -4.00Z" fill="#1c1c1c" filter="url(#b15)" style="mix-blend-mode:plus-lighter" />
<path d="M20.60 52.00 L17.60 52.00 L13.00 -4.00 L28.00 -4.00Z" fill="#1c1c1c" filter="url(#b15)" style="mix-blend-mode:plus-lighter" />
<path d="M19.92 50.00 L18.12 50.00 L14.80 -4.00 L23.40 -4.00Z" fill="#181818" filter="url(#b15)" style="mix-blend-mode:plus-lighter" />
<path d="M22.80 -2.00 L20.87 34.00" fill="none" stroke="#090909" stroke-width="1.1" stroke-linecap="round" stroke-linejoin="round" filter="url(#b05)" style="mix-blend-mode:plus-lighter"/>
<path d="M20.20 -2.00 L19.83 34.00" fill="none" stroke="#0c0c0c" stroke-width="1.1" stroke-linecap="round" stroke-linejoin="round" filter="url(#b05)" style="mix-blend-mode:plus-lighter"/>
<path d="M17.60 -2.00 L18.79 34.00" fill="none" stroke="#0c0c0c" stroke-width="1.1" stroke-linecap="round" stroke-linejoin="round" filter="url(#b05)" style="mix-blend-mode:plus-lighter"/>
<path d="M15.00 -2.00 L17.75 34.00" fill="none" stroke="#090909" stroke-width="1.1" stroke-linecap="round" stroke-linejoin="round" filter="url(#b05)" style="mix-blend-mode:plus-lighter"/>
<path d="M18.92 16.00 L18.93 47.00" fill="none" stroke="#0f0f0f" stroke-width="2.8" stroke-linecap="round" stroke-linejoin="round" filter="url(#b15)" style="mix-blend-mode:plus-lighter"/>
<path d="M18.33 30.00 L18.93 47.00" fill="none" stroke="#171717" stroke-width="2.6" stroke-linecap="round" stroke-linejoin="round" filter="url(#b15)" style="mix-blend-mode:plus-lighter"/>
<path d="M18.03 37.00 L19.02 48.00" fill="none" stroke="#1f1f1f" stroke-width="2.2" stroke-linecap="round" stroke-linejoin="round" filter="url(#b1)" style="mix-blend-mode:plus-lighter"/>
<path d="M10.00 -2.00 L13.30 44.00" fill="none" stroke="#080808" stroke-width="0.9" stroke-linecap="round" stroke-linejoin="round" filter="url(#b05)" style="mix-blend-mode:plus-lighter"/>
<path d="M7.50 -2.00 L10.80 40.00" fill="none" stroke="#050505" stroke-width="0.9" stroke-linecap="round" stroke-linejoin="round" filter="url(#b05)" style="mix-blend-mode:plus-lighter"/>
<path d="M18.48 42.00 L19.90 57.80 L21.29 68.50" fill="none" stroke="#2e2e2e" stroke-width="2.8" stroke-linecap="round" stroke-linejoin="round" filter="url(#b1)" style="mix-blend-mode:plus-lighter"/>
<path d="M18.75 45.00 L19.90 57.80 L21.14 67.30" fill="none" stroke="#333333" stroke-width="2.7" stroke-linecap="round" stroke-linejoin="round" filter="url(#b1)" style="mix-blend-mode:plus-lighter"/>
<path d="M19.02 48.00 L19.90 57.80 L20.98 66.10" fill="none" stroke="#404040" stroke-width="2.6" stroke-linecap="round" stroke-linejoin="round" filter="url(#b1)" style="mix-blend-mode:plus-lighter"/>
<path d="M19.29 51.00 L19.90 57.80 L20.82 64.90" fill="none" stroke="#4c4c4c" stroke-width="2.5" stroke-linecap="round" stroke-linejoin="round" filter="url(#b1)" style="mix-blend-mode:plus-lighter"/>
<path d="M19.56 54.00 L19.90 57.80 L20.67 63.70" fill="none" stroke="#595959" stroke-width="2.4" stroke-linecap="round" stroke-linejoin="round" filter="url(#b1)" style="mix-blend-mode:plus-lighter"/>
<path d="M93.20 67.80 L92.99 71.54 L92.37 75.28 L91.34 79.02 L89.89 82.75 L88.03 86.49 L85.76 90.23 L83.07 93.97 L79.97 97.71 L76.46 101.45 L72.54 105.18 L68.20 108.92 L63.44 112.66 L58.28 116.40 L109.20 116.40 L95.00 67.80Z" fill="url(#g33)" filter="url(#b1)" style="mix-blend-mode:plus-lighter"/>
<path d="M93.70 67.80 L93.48 73.20 L92.84 78.60 L91.76 84.00 L90.25 89.40 L88.31 94.80 L85.94 100.20 L83.14 105.60 L79.90 111.00 L76.24 116.40 L109.20 116.40 L95.00 67.80Z" fill="url(#g34)" filter="url(#b15)" style="mix-blend-mode:plus-lighter"/>
<path d="M93.70 67.80 L98.70 116.40 L112.50 116.40 L95.20 67.80Z" fill="url(#g35)" filter="url(#b1)" style="mix-blend-mode:plus-lighter"/>
<path d="M94.80 68.80 L99.87 83.80 L105.28 99.80 L111.70 115.40" fill="none" stroke="url(#g36)" stroke-width="2.0" stroke-linecap="round" stroke-linejoin="round" filter="url(#b1)" style="mix-blend-mode:plus-lighter"/>
<path d="M93.20 68.80 L88.70 81.80 L82.20 94.80 L74.20 113.80" fill="none" stroke="url(#g37)" stroke-width="1.7" stroke-linecap="round" stroke-linejoin="round" filter="url(#b1)" style="mix-blend-mode:plus-lighter"/>
<path d="M103.70 115.40 L98.42 95.20 L91.93 76.00 L84.62 93.20 L79.70 115.40" fill="none" stroke="url(#g38)" stroke-width="0.9" stroke-linecap="round" stroke-linejoin="round" filter="url(#b05)" style="mix-blend-mode:plus-lighter"/>
<path d="M100.20 115.40 L96.09 98.70 L90.77 83.00 L85.54 96.70 L82.70 115.40" fill="none" stroke="url(#g39)" stroke-width="0.9" stroke-linecap="round" stroke-linejoin="round" filter="url(#b05)" style="mix-blend-mode:plus-lighter"/>
<path d="M97.20 115.40 L94.01 102.20 L89.61 90.00 L86.21 100.20 L85.20 115.40" fill="none" stroke="url(#g40)" stroke-width="0.9" stroke-linecap="round" stroke-linejoin="round" filter="url(#b05)" style="mix-blend-mode:plus-lighter"/>
<path d="M94.70 115.40 L92.18 105.70 L88.45 97.00 L86.88 103.70 L87.70 115.40" fill="none" stroke="url(#g41)" stroke-width="0.9" stroke-linecap="round" stroke-linejoin="round" filter="url(#b05)" style="mix-blend-mode:plus-lighter"/>
<path d="M92.20 73.80 L80.50 93.80 L68.70 115.40" fill="none" stroke="url(#g42)" stroke-width="0.9" stroke-linecap="round" stroke-linejoin="round" filter="url(#b05)" style="mix-blend-mode:plus-lighter"/>
<path d="M92.20 73.80 L78.70 93.80 L64.70 115.40" fill="none" stroke="url(#g43)" stroke-width="0.9" stroke-linecap="round" stroke-linejoin="round" filter="url(#b05)" style="mix-blend-mode:plus-lighter"/>
<path d="M93.66 64.30 L95.26 64.30 L97.00 73.80 L91.20 73.80Z" fill="#4c4c4c" filter="url(#b1)" style="mix-blend-mode:plus-lighter" />
<path d="M95.20 70.80 L98.19 81.80" fill="none" stroke="#292929" stroke-width="2.0" stroke-linecap="round" stroke-linejoin="round" filter="url(#b1)" style="mix-blend-mode:plus-lighter"/>
<path d="M92.80 70.80 L88.60 80.80" fill="none" stroke="#242424" stroke-width="1.8" stroke-linecap="round" stroke-linejoin="round" filter="url(#b1)" style="mix-blend-mode:plus-lighter"/>
<path d="M93.62 54.00 L98.62 54.00 L104.20 -4.00 L84.60 -4.00Z" fill="#1c1c1c" filter="url(#b15)" style="mix-blend-mode:plus-lighter" />
<path d="M94.80 52.00 L97.80 52.00 L102.40 -4.00 L87.40 -4.00Z" fill="#1c1c1c" filter="url(#b15)" style="mix-blend-mode:plus-lighter" />
<path d="M95.48 50.00 L97.28 50.00 L100.60 -4.00 L92.00 -4.00Z" fill="#181818" filter="url(#b15)" style="mix-blend-mode:plus-lighter" />
<path d="M92.60 -2.00 L94.53 34.00" fill="none" stroke="#090909" stroke-width="1.1" stroke-linecap="round" stroke-linejoin="round" filter="url(#b05)" style="mix-blend-mode:plus-lighter"/>
<path d="M95.20 -2.00 L95.57 34.00" fill="none" stroke="#0c0c0c" stroke-width="1.1" stroke-linecap="round" stroke-linejoin="round" filter="url(#b05)" style="mix-blend-mode:plus-lighter"/>
<path d="M97.80 -2.00 L96.61 34.00" fill="none" stroke="#0c0c0c" stroke-width="1.1" stroke-linecap="round" stroke-linejoin="round" filter="url(#b05)" style="mix-blend-mode:plus-lighter"/>
<path d="M100.40 -2.00 L97.65 34.00" fill="none" stroke="#090909" stroke-width="1.1" stroke-linecap="round" stroke-linejoin="round" filter="url(#b05)" style="mix-blend-mode:plus-lighter"/>
<path d="M96.48 16.00 L96.47 47.00" fill="none" stroke="#0f0f0f" stroke-width="2.8" stroke-linecap="round" stroke-linejoin="round" filter="url(#b15)" style="mix-blend-mode:plus-lighter"/>
<path d="M97.07 30.00 L96.47 47.00" fill="none" stroke="#171717" stroke-width="2.6" stroke-linecap="round" stroke-linejoin="round" filter="url(#b15)" style="mix-blend-mode:plus-lighter"/>
<path d="M97.37 37.00 L96.38 48.00" fill="none" stroke="#1f1f1f" stroke-width="2.2" stroke-linecap="round" stroke-linejoin="round" filter="url(#b1)" style="mix-blend-mode:plus-lighter"/>
<path d="M105.40 -2.00 L102.10 44.00" fill="none" stroke="#080808" stroke-width="0.9" stroke-linecap="round" stroke-linejoin="round" filter="url(#b05)" style="mix-blend-mode:plus-lighter"/>
<path d="M107.90 -2.00 L104.60 40.00" fill="none" stroke="#050505" stroke-width="0.9" stroke-linecap="round" stroke-linejoin="round" filter="url(#b05)" style="mix-blend-mode:plus-lighter"/>
<path d="M96.92 42.00 L95.50 57.80 L94.11 68.50" fill="none" stroke="#2e2e2e" stroke-width="2.8" stroke-linecap="round" stroke-linejoin="round" filter="url(#b1)" style="mix-blend-mode:plus-lighter"/>
<path d="M96.65 45.00 L95.50 57.80 L94.27 67.30" fill="none" stroke="#333333" stroke-width="2.7" stroke-linecap="round" stroke-linejoin="round" filter="url(#b1)" style="mix-blend-mode:plus-lighter"/>
<path d="M96.38 48.00 L95.50 57.80 L94.42 66.10" fill="none" stroke="#404040" stroke-width="2.6" stroke-linecap="round" stroke-linejoin="round" filter="url(#b1)" style="mix-blend-mode:plus-lighter"/>
<path d="M96.11 51.00 L95.50 57.80 L94.58 64.90" fill="none" stroke="#4c4c4c" stroke-width="2.5" stroke-linecap="round" stroke-linejoin="round" filter="url(#b1)" style="mix-blend-mode:plus-lighter"/>
<path d="M95.84 54.00 L95.50 57.80 L94.73 63.70" fill="none" stroke="#595959" stroke-width="2.4" stroke-linecap="round" stroke-linejoin="round" filter="url(#b1)" style="mix-blend-mode:plus-lighter"/>
<rect x="55.20" y="113.50" width="5" height="1.6" fill="#4c4c4c" filter="url(#b07)" style="mix-blend-mode:plus-lighter"/>
</g>
<path d="M0.5 57.80 H115.00" stroke="#fff" stroke-width="1.3" stroke-dasharray="2.85 2.3" stroke-dashoffset="1" fill="none"/>
</svg>
<text x="417.90" y="179.60" font-size="16.3" text-anchor="middle" fill="#fff" font-weight="normal" font-style="normal" >(h)</text>
<text x="355.50" y="177.00" font-size="15.5" text-anchor="end" fill="#2b2b2b" font-weight="normal" font-style="normal" >40</text>
<text x="355.50" y="229.20" font-size="15.5" text-anchor="end" fill="#2b2b2b" font-weight="normal" font-style="normal" >20</text>
<text x="355.50" y="281.80" font-size="15.5" text-anchor="end" fill="#2b2b2b" font-weight="normal" font-style="normal" >0</text>
<text transform="translate(483.0 223.10) rotate(90)" font-size="19" word-spacing="1.6" text-anchor="middle" fill="#2b2b2b">n = 4</text>
<svg x="360.30" y="294.40" width="115.00" height="114.50" viewBox="0 0 115.00 114.50">
<g filter="url(#jet)">
<rect x="-2" y="-2" width="119.00" height="118.50" fill="#000"/>
<path d="M21.70 69.00 L21.91 72.65 L22.53 76.31 L23.56 79.96 L25.01 83.62 L26.87 87.27 L29.15 90.92 L31.84 94.58 L34.94 98.23 L38.45 101.88 L42.38 105.54 L46.73 109.19 L51.49 112.85 L56.66 116.50 L6.30 116.50 L19.90 69.00Z" fill="url(#g44)" filter="url(#b1)" style="mix-blend-mode:plus-lighter"/>
<path d="M21.20 69.00 L21.42 74.28 L22.06 79.56 L23.14 84.83 L24.65 90.11 L26.59 95.39 L28.97 100.67 L31.77 105.94 L35.01 111.22 L38.68 116.50 L6.30 116.50 L19.90 69.00Z" fill="url(#g45)" filter="url(#b15)" style="mix-blend-mode:plus-lighter"/>
<path d="M21.20 69.00 L16.80 116.50 L3.00 116.50 L19.70 69.00Z" fill="url(#g46)" filter="url(#b1)" style="mix-blend-mode:plus-lighter"/>
<path d="M20.10 70.00 L15.21 85.00 L9.99 101.00 L3.80 115.50" fill="none" stroke="url(#g47)" stroke-width="2.0" stroke-linecap="round" stroke-linejoin="round" filter="url(#b1)" style="mix-blend-mode:plus-lighter"/>
<path d="M21.70 70.00 L26.80 83.00 L33.30 96.00 L41.30 115.00" fill="none" stroke="url(#g48)" stroke-width="1.7" stroke-linecap="round" stroke-linejoin="round" filter="url(#b1)" style="mix-blend-mode:plus-lighter"/>
<path d="M11.80 115.50 L16.60 95.25 L22.60 76.00 L30.40 93.25 L35.80 115.50" fill="none" stroke="url(#g49)" stroke-width="0.9" stroke-linecap="round" stroke-linejoin="round" filter="url(#b05)" style="mix-blend-mode:plus-lighter"/>
<path d="M15.30 115.50 L18.82 98.75 L23.55 83.00 L29.37 96.75 L32.80 115.50" fill="none" stroke="url(#g50)" stroke-width="0.9" stroke-linecap="round" stroke-linejoin="round" filter="url(#b05)" style="mix-blend-mode:plus-lighter"/>
<path d="M18.30 115.50 L20.80 102.25 L24.50 90.00 L28.60 100.25 L30.30 115.50" fill="none" stroke="url(#g51)" stroke-width="0.9" stroke-linecap="round" stroke-linejoin="round" filter="url(#b05)" style="mix-blend-mode:plus-lighter"/>
<path d="M20.80 115.50 L22.52 105.75 L25.45 97.00 L27.82 103.75 L27.80 115.50" fill="none" stroke="url(#g52)" stroke-width="0.9" stroke-linecap="round" stroke-linejoin="round" filter="url(#b05)" style="mix-blend-mode:plus-lighter"/>
<path d="M22.70 75.00 L34.40 95.00 L46.80 115.50" fill="none" stroke="url(#g53)" stroke-width="0.9" stroke-linecap="round" stroke-linejoin="round" filter="url(#b05)" style="mix-blend-mode:plus-lighter"/>
<path d="M22.70 75.00 L36.20 95.00 L50.80 115.50" fill="none" stroke="url(#g54)" stroke-width="0.9" stroke-linecap="round" stroke-linejoin="round" filter="url(#b05)" style="mix-blend-mode:plus-lighter"/>
<path d="M21.30 65.50 L19.70 65.50 L17.90 75.00 L23.70 75.00Z" fill="#4c4c4c" filter="url(#b1)" style="mix-blend-mode:plus-lighter" />
<path d="M19.70 72.00 L16.74 83.00" fill="none" stroke="#292929" stroke-width="2.0" stroke-linecap="round" stroke-linejoin="round" filter="url(#b1)" style="mix-blend-mode:plus-lighter"/>
<path d="M22.10 72.00 L26.30 82.00" fill="none" stroke="#242424" stroke-width="1.8" stroke-linecap="round" stroke-linejoin="round" filter="url(#b1)" style="mix-blend-mode:plus-lighter"/>
<path d="M21.82 55.50 L16.82 55.50 L11.00 -4.00 L30.60 -4.00Z" fill="#1a1a1a" filter="url(#b15)" style="mix-blend-mode:plus-lighter" />
<path d="M20.72 53.50 L17.72 53.50 L12.80 -4.00 L27.80 -4.00Z" fill="#1a1a1a" filter="url(#b15)" style="mix-blend-mode:plus-lighter" />
<path d="M20.12 51.50 L18.32 51.50 L14.60 -4.00 L23.20 -4.00Z" fill="#171717" filter="url(#b15)" style="mix-blend-mode:plus-lighter" />
<path d="M22.60 -2.00 L21.42 35.50" fill="none" stroke="#090909" stroke-width="1.1" stroke-linecap="round" stroke-linejoin="round" filter="url(#b05)" style="mix-blend-mode:plus-lighter"/>
<path d="M20.00 -2.00 L20.38 35.50" fill="none" stroke="#0c0c0c" stroke-width="1.1" stroke-linecap="round" stroke-linejoin="round" filter="url(#b05)" style="mix-blend-mode:plus-lighter"/>
<path d="M17.40 -2.00 L19.34 35.50" fill="none" stroke="#0c0c0c" stroke-width="1.1" stroke-linecap="round" stroke-linejoin="round" filter="url(#b05)" style="mix-blend-mode:plus-lighter"/>
<path d="M14.80 -2.00 L18.30 35.50" fill="none" stroke="#090909" stroke-width="1.1" stroke-linecap="round" stroke-linejoin="round" filter="url(#b05)" style="mix-blend-mode:plus-lighter"/>
<path d="M19.05 16.00 L19.17 48.50" fill="none" stroke="#0f0f0f" stroke-width="2.8" stroke-linecap="round" stroke-linejoin="round" filter="url(#b15)" style="mix-blend-mode:plus-lighter"/>
<path d="M18.72 31.50 L19.17 48.50" fill="none" stroke="#171717" stroke-width="2.6" stroke-linecap="round" stroke-linejoin="round" filter="url(#b15)" style="mix-blend-mode:plus-lighter"/>
<path d="M18.67 38.50 L19.22 49.50" fill="none" stroke="#1f1f1f" stroke-width="2.2" stroke-linecap="round" stroke-linejoin="round" filter="url(#b1)" style="mix-blend-mode:plus-lighter"/>
<path d="M9.80 -2.00 L13.75 44.00" fill="none" stroke="#080808" stroke-width="0.9" stroke-linecap="round" stroke-linejoin="round" filter="url(#b05)" style="mix-blend-mode:plus-lighter"/>
<path d="M7.30 -2.00 L11.25 40.00" fill="none" stroke="#050505" stroke-width="0.9" stroke-linecap="round" stroke-linejoin="round" filter="url(#b05)" style="mix-blend-mode:plus-lighter"/>
<path d="M18.92 43.50 L19.70 59.00 L20.85 70.50" fill="none" stroke="#2e2e2e" stroke-width="2.8" stroke-linecap="round" stroke-linejoin="round" filter="url(#b1)" style="mix-blend-mode:plus-lighter"/>
<path d="M19.07 46.50 L19.70 59.00 L20.73 69.30" fill="none" stroke="#333333" stroke-width="2.7" stroke-linecap="round" stroke-linejoin="round" filter="url(#b1)" style="mix-blend-mode:plus-lighter"/>
<path d="M19.22 49.50 L19.70 59.00 L20.61 68.10" fill="none" stroke="#404040" stroke-width="2.6" stroke-linecap="round" stroke-linejoin="round" filter="url(#b1)" style="mix-blend-mode:plus-lighter"/>
<path d="M19.37 52.50 L19.70 59.00 L20.49 66.90" fill="none" stroke="#4c4c4c" stroke-width="2.5" stroke-linecap="round" stroke-linejoin="round" filter="url(#b1)" style="mix-blend-mode:plus-lighter"/>
<path d="M19.52 55.50 L19.70 59.00 L20.37 65.70" fill="none" stroke="#595959" stroke-width="2.4" stroke-linecap="round" stroke-linejoin="round" filter="url(#b1)" style="mix-blend-mode:plus-lighter"/>
<path d="M93.90 69.00 L93.69 72.65 L93.07 76.31 L92.04 79.96 L90.59 83.62 L88.73 87.27 L86.45 90.92 L83.76 94.58 L80.66 98.23 L77.15 101.88 L73.22 105.54 L68.87 109.19 L64.11 112.85 L58.94 116.50 L109.30 116.50 L95.70 69.00Z" fill="url(#g55)" filter="url(#b1)" style="mix-blend-mode:plus-lighter"/>
<path d="M94.40 69.00 L94.18 74.28 L93.54 79.56 L92.46 84.83 L90.95 90.11 L89.01 95.39 L86.63 100.67 L83.83 105.94 L80.59 111.22 L76.92 116.50 L109.30 116.50 L95.70 69.00Z" fill="url(#g56)" filter="url(#b15)" style="mix-blend-mode:plus-lighter"/>
<path d="M94.40 69.00 L98.80 116.50 L112.60 116.50 L95.90 69.00Z" fill="url(#g57)" filter="url(#b1)" style="mix-blend-mode:plus-lighter"/>
<path d="M95.50 70.00 L100.39 85.00 L105.61 101.00 L111.80 115.50" fill="none" stroke="url(#g58)" stroke-width="2.0" stroke-linecap="round" stroke-linejoin="round" filter="url(#b1)" style="mix-blend-mode:plus-lighter"/>
<path d="M93.90 70.00 L88.80 83.00 L82.30 96.00 L74.30 115.00" fill="none" stroke="url(#g59)" stroke-width="1.7" stroke-linecap="round" stroke-linejoin="round" filter="url(#b1)" style="mix-blend-mode:plus-lighter"/>
<path d="M103.80 115.50 L99.00 95.25 L93.00 76.00 L85.20 93.25 L79.80 115.50" fill="none" stroke="url(#g60)" stroke-width="0.9" stroke-linecap="round" stroke-linejoin="round" filter="url(#b05)" style="mix-blend-mode:plus-lighter"/>
<path d="M100.30 115.50 L96.78 98.75 L92.05 83.00 L86.22 96.75 L82.80 115.50" fill="none" stroke="url(#g61)" stroke-width="0.9" stroke-linecap="round" stroke-linejoin="round" filter="url(#b05)" style="mix-blend-mode:plus-lighter"/>
<path d="M97.30 115.50 L94.80 102.25 L91.10 90.00 L87.00 100.25 L85.30 115.50" fill="none" stroke="url(#g62)" stroke-width="0.9" stroke-linecap="round" stroke-linejoin="round" filter="url(#b05)" style="mix-blend-mode:plus-lighter"/>
<path d="M94.80 115.50 L93.07 105.75 L90.15 97.00 L87.78 103.75 L87.80 115.50" fill="none" stroke="url(#g63)" stroke-width="0.9" stroke-linecap="round" stroke-linejoin="round" filter="url(#b05)" style="mix-blend-mode:plus-lighter"/>
<path d="M92.90 75.00 L81.20 95.00 L68.80 115.50" fill="none" stroke="url(#g64)" stroke-width="0.9" stroke-linecap="round" stroke-linejoin="round" filter="url(#b05)" style="mix-blend-mode:plus-lighter"/>
<path d="M92.90 75.00 L79.40 95.00 L64.80 115.50" fill="none" stroke="url(#g65)" stroke-width="0.9" stroke-linecap="round" stroke-linejoin="round" filter="url(#b05)" style="mix-blend-mode:plus-lighter"/>
<path d="M94.30 65.50 L95.90 65.50 L97.70 75.00 L91.90 75.00Z" fill="#4c4c4c" filter="url(#b1)" style="mix-blend-mode:plus-lighter" />
<path d="M95.90 72.00 L98.86 83.00" fill="none" stroke="#292929" stroke-width="2.0" stroke-linecap="round" stroke-linejoin="round" filter="url(#b1)" style="mix-blend-mode:plus-lighter"/>
<path d="M93.50 72.00 L89.30 82.00" fill="none" stroke="#242424" stroke-width="1.8" stroke-linecap="round" stroke-linejoin="round" filter="url(#b1)" style="mix-blend-mode:plus-lighter"/>
<path d="M93.78 55.50 L98.78 55.50 L104.60 -4.00 L85.00 -4.00Z" fill="#1a1a1a" filter="url(#b15)" style="mix-blend-mode:plus-lighter" />
<path d="M94.88 53.50 L97.88 53.50 L102.80 -4.00 L87.80 -4.00Z" fill="#1a1a1a" filter="url(#b15)" style="mix-blend-mode:plus-lighter" />
<path d="M95.47 51.50 L97.28 51.50 L101.00 -4.00 L92.40 -4.00Z" fill="#171717" filter="url(#b15)" style="mix-blend-mode:plus-lighter" />
<path d="M93.00 -2.00 L94.18 35.50" fill="none" stroke="#090909" stroke-width="1.1" stroke-linecap="round" stroke-linejoin="round" filter="url(#b05)" style="mix-blend-mode:plus-lighter"/>
<path d="M95.60 -2.00 L95.22 35.50" fill="none" stroke="#0c0c0c" stroke-width="1.1" stroke-linecap="round" stroke-linejoin="round" filter="url(#b05)" style="mix-blend-mode:plus-lighter"/>
<path d="M98.20 -2.00 L96.25 35.50" fill="none" stroke="#0c0c0c" stroke-width="1.1" stroke-linecap="round" stroke-linejoin="round" filter="url(#b05)" style="mix-blend-mode:plus-lighter"/>
<path d="M100.80 -2.00 L97.30 35.50" fill="none" stroke="#090909" stroke-width="1.1" stroke-linecap="round" stroke-linejoin="round" filter="url(#b05)" style="mix-blend-mode:plus-lighter"/>
<path d="M96.55 16.00 L96.42 48.50" fill="none" stroke="#0f0f0f" stroke-width="2.8" stroke-linecap="round" stroke-linejoin="round" filter="url(#b15)" style="mix-blend-mode:plus-lighter"/>
<path d="M96.88 31.50 L96.42 48.50" fill="none" stroke="#171717" stroke-width="2.6" stroke-linecap="round" stroke-linejoin="round" filter="url(#b15)" style="mix-blend-mode:plus-lighter"/>
<path d="M96.92 38.50 L96.38 49.50" fill="none" stroke="#1f1f1f" stroke-width="2.2" stroke-linecap="round" stroke-linejoin="round" filter="url(#b1)" style="mix-blend-mode:plus-lighter"/>
<path d="M105.80 -2.00 L101.85 44.00" fill="none" stroke="#080808" stroke-width="0.9" stroke-linecap="round" stroke-linejoin="round" filter="url(#b05)" style="mix-blend-mode:plus-lighter"/>
<path d="M108.30 -2.00 L104.35 40.00" fill="none" stroke="#050505" stroke-width="0.9" stroke-linecap="round" stroke-linejoin="round" filter="url(#b05)" style="mix-blend-mode:plus-lighter"/>
<path d="M96.67 43.50 L95.90 59.00 L94.75 70.50" fill="none" stroke="#2e2e2e" stroke-width="2.8" stroke-linecap="round" stroke-linejoin="round" filter="url(#b1)" style="mix-blend-mode:plus-lighter"/>
<path d="M96.53 46.50 L95.90 59.00 L94.87 69.30" fill="none" stroke="#333333" stroke-width="2.7" stroke-linecap="round" stroke-linejoin="round" filter="url(#b1)" style="mix-blend-mode:plus-lighter"/>
<path d="M96.38 49.50 L95.90 59.00 L94.99 68.10" fill="none" stroke="#404040" stroke-width="2.6" stroke-linecap="round" stroke-linejoin="round" filter="url(#b1)" style="mix-blend-mode:plus-lighter"/>
<path d="M96.22 52.50 L95.90 59.00 L95.11 66.90" fill="none" stroke="#4c4c4c" stroke-width="2.5" stroke-linecap="round" stroke-linejoin="round" filter="url(#b1)" style="mix-blend-mode:plus-lighter"/>
<path d="M96.07 55.50 L95.90 59.00 L95.23 65.70" fill="none" stroke="#595959" stroke-width="2.4" stroke-linecap="round" stroke-linejoin="round" filter="url(#b1)" style="mix-blend-mode:plus-lighter"/>
<rect x="55.30" y="113.60" width="5" height="1.6" fill="#4c4c4c" filter="url(#b07)" style="mix-blend-mode:plus-lighter"/>
</g>
<path d="M0.5 59.00 H115.00" stroke="#fff" stroke-width="1.3" stroke-dasharray="2.85 2.3" stroke-dashoffset="1" fill="none"/>
</svg>
<text x="419.90" y="307.40" font-size="16.3" text-anchor="middle" fill="#fff" font-weight="normal" font-style="normal" >(i)</text>
<text x="355.50" y="304.80" font-size="15.5" text-anchor="end" fill="#2b2b2b" font-weight="normal" font-style="normal" >40</text>
<text x="355.50" y="357.80" font-size="15.5" text-anchor="end" fill="#2b2b2b" font-weight="normal" font-style="normal" >20</text>
<text x="355.50" y="409.60" font-size="15.5" text-anchor="end" fill="#2b2b2b" font-weight="normal" font-style="normal" >0</text>
<text transform="translate(483.0 353.65) rotate(90)" font-size="19" word-spacing="1.6" text-anchor="middle" fill="#2b2b2b">n = 6</text>
<text x="379.00" y="427.50" font-size="15.5" text-anchor="end" fill="#2b2b2b" font-weight="normal" font-style="normal" >-15</text>
<text x="420.00" y="427.50" font-size="15.5" text-anchor="middle" fill="#2b2b2b" font-weight="normal" font-style="normal" >0</text>
<text x="468.80" y="427.50" font-size="15.5" text-anchor="middle" fill="#2b2b2b" font-weight="normal" font-style="normal" >15</text>
<rect x="508.4" y="39.1" width="13.3" height="114.4" fill="url(#cb)"/>
<text x="525.30" y="47.70" font-size="15.5" text-anchor="start" fill="#2b2b2b" font-weight="normal" font-style="normal" >1</text>
<text x="525.30" y="101.40" font-size="15.5" text-anchor="start" fill="#2b2b2b" font-weight="normal" font-style="normal" >0.5</text>
<text x="525.30" y="155.40" font-size="15.5" text-anchor="start" fill="#2b2b2b" font-weight="normal" font-style="normal" >0</text>
<text transform="translate(20.6 222.1) rotate(-90)" font-size="19" letter-spacing="0.55" font-weight="bold" text-anchor="middle" fill="#2b2b2b"><tspan font-style="italic">y</tspan> (μm)</text>
<text x="268.8" y="449.6" font-size="19" letter-spacing="1.1" font-weight="bold" text-anchor="middle" fill="#2b2b2b"><tspan font-style="italic">x</tspan> (μm)</text>
<text transform="translate(516.8 199.6) rotate(90)" font-size="19" font-weight="bold" text-anchor="start" fill="#2b2b2b"><tspan font-style="italic" font-size="13.5" dy="-1.4">z</tspan><tspan dx="3.0" dy="1.4" letter-spacing="0.45">(μm)</tspan></text>
</svg></body></html>
